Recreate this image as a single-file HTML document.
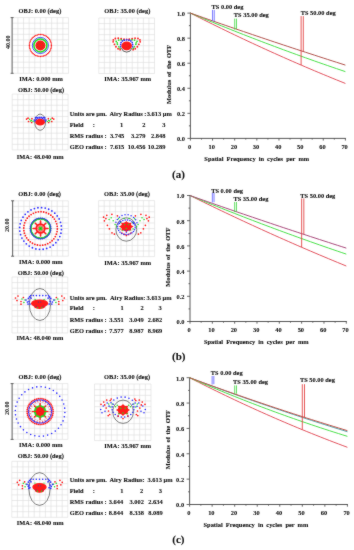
<!DOCTYPE html><html><head><meta charset="utf-8"><style>html,body{margin:0;padding:0;background:#fff;}body{width:354px;height:550px;overflow:hidden;}#w{width:354px;height:550px;will-change:transform;}</style></head><body><div id="w"><svg width="354" height="550" viewBox="0 0 354 550" font-family="Liberation Serif, serif" font-weight="bold" fill="#111" style="display:block"><defs><filter id="bl" color-interpolation-filters="sRGB" x="0" y="0" width="354" height="550" filterUnits="userSpaceOnUse"><feConvolveMatrix order="3" kernelMatrix="0.0250 0.0500 0.0250 0.0500 0.7000 0.0500 0.0250 0.0500 0.0250" preserveAlpha="false" edgeMode="none"/></filter></defs><rect width="354" height="550" fill="#fff"/><g filter="url(#bl)"><rect width="354" height="550" fill="#fff"/>
<path d="M12.3 17.6V73.3M12.3 17.6H68.5M17.92 17.6V73.3M12.3 23.17H68.5M23.54 17.6V73.3M12.3 28.74H68.5M29.16 17.6V73.3M12.3 34.31H68.5M34.78 17.6V73.3M12.3 39.88H68.5M40.4 17.6V73.3M12.3 45.45H68.5M46.02 17.6V73.3M12.3 51.02H68.5M51.64 17.6V73.3M12.3 56.59H68.5M57.26 17.6V73.3M12.3 62.16H68.5M62.88 17.6V73.3M12.3 67.73H68.5M68.5 17.6V73.3M12.3 73.3H68.5" stroke="#dcdcdc" stroke-width="0.6" fill="none"/>
<path d="M98.8 18V73.5M98.8 18H154.5M104.37 18V73.5M98.8 23.55H154.5M109.94 18V73.5M98.8 29.1H154.5M115.51 18V73.5M98.8 34.65H154.5M121.08 18V73.5M98.8 40.2H154.5M126.65 18V73.5M98.8 45.75H154.5M132.22 18V73.5M98.8 51.3H154.5M137.79 18V73.5M98.8 56.85H154.5M143.36 18V73.5M98.8 62.4H154.5M148.93 18V73.5M98.8 67.95H154.5M154.5 18V73.5M98.8 73.5H154.5" stroke="#dcdcdc" stroke-width="0.6" fill="none"/>
<path d="M12.2 94.1V149.9M12.2 94.1H68.1M17.79 94.1V149.9M12.2 99.68H68.1M23.38 94.1V149.9M12.2 105.26H68.1M28.97 94.1V149.9M12.2 110.84H68.1M34.56 94.1V149.9M12.2 116.42H68.1M40.15 94.1V149.9M12.2 122H68.1M45.74 94.1V149.9M12.2 127.58H68.1M51.33 94.1V149.9M12.2 133.16H68.1M56.92 94.1V149.9M12.2 138.74H68.1M62.51 94.1V149.9M12.2 144.32H68.1M68.1 94.1V149.9M12.2 149.9H68.1" stroke="#dcdcdc" stroke-width="0.6" fill="none"/>
<path d="M12.1 17.6V73.3M10.6 17.6H13.6M10.6 73.3H13.6" stroke="#555" stroke-width="0.9" fill="none"/>
<text x="9.5" y="42.25" font-size="6" text-anchor="middle" transform="rotate(-90 9.5 42.25)">40.00</text>
<path d="M50.65 45.45a0.75 0.75 0 1 0 1.5 0a0.75 0.75 0 1 0 -1.5 0M50.54 47.02a0.75 0.75 0 1 0 1.5 0a0.75 0.75 0 1 0 -1.5 0M50.2 48.55a0.75 0.75 0 1 0 1.5 0a0.75 0.75 0 1 0 -1.5 0M49.66 50.02a0.75 0.75 0 1 0 1.5 0a0.75 0.75 0 1 0 -1.5 0M48.9 51.4a0.75 0.75 0 1 0 1.5 0a0.75 0.75 0 1 0 -1.5 0M47.96 52.65a0.75 0.75 0 1 0 1.5 0a0.75 0.75 0 1 0 -1.5 0M46.85 53.76a0.75 0.75 0 1 0 1.5 0a0.75 0.75 0 1 0 -1.5 0M45.6 54.7a0.75 0.75 0 1 0 1.5 0a0.75 0.75 0 1 0 -1.5 0M44.22 55.46a0.75 0.75 0 1 0 1.5 0a0.75 0.75 0 1 0 -1.5 0M42.75 56a0.75 0.75 0 1 0 1.5 0a0.75 0.75 0 1 0 -1.5 0M41.22 56.34a0.75 0.75 0 1 0 1.5 0a0.75 0.75 0 1 0 -1.5 0M39.65 56.45a0.75 0.75 0 1 0 1.5 0a0.75 0.75 0 1 0 -1.5 0M38.08 56.34a0.75 0.75 0 1 0 1.5 0a0.75 0.75 0 1 0 -1.5 0M36.55 56a0.75 0.75 0 1 0 1.5 0a0.75 0.75 0 1 0 -1.5 0M35.08 55.46a0.75 0.75 0 1 0 1.5 0a0.75 0.75 0 1 0 -1.5 0M33.7 54.7a0.75 0.75 0 1 0 1.5 0a0.75 0.75 0 1 0 -1.5 0M32.45 53.76a0.75 0.75 0 1 0 1.5 0a0.75 0.75 0 1 0 -1.5 0M31.34 52.65a0.75 0.75 0 1 0 1.5 0a0.75 0.75 0 1 0 -1.5 0M30.4 51.4a0.75 0.75 0 1 0 1.5 0a0.75 0.75 0 1 0 -1.5 0M29.64 50.02a0.75 0.75 0 1 0 1.5 0a0.75 0.75 0 1 0 -1.5 0M29.1 48.55a0.75 0.75 0 1 0 1.5 0a0.75 0.75 0 1 0 -1.5 0M28.76 47.02a0.75 0.75 0 1 0 1.5 0a0.75 0.75 0 1 0 -1.5 0M28.65 45.45a0.75 0.75 0 1 0 1.5 0a0.75 0.75 0 1 0 -1.5 0M28.76 43.88a0.75 0.75 0 1 0 1.5 0a0.75 0.75 0 1 0 -1.5 0M29.1 42.35a0.75 0.75 0 1 0 1.5 0a0.75 0.75 0 1 0 -1.5 0M29.64 40.88a0.75 0.75 0 1 0 1.5 0a0.75 0.75 0 1 0 -1.5 0M30.4 39.5a0.75 0.75 0 1 0 1.5 0a0.75 0.75 0 1 0 -1.5 0M31.34 38.25a0.75 0.75 0 1 0 1.5 0a0.75 0.75 0 1 0 -1.5 0M32.45 37.14a0.75 0.75 0 1 0 1.5 0a0.75 0.75 0 1 0 -1.5 0M33.7 36.2a0.75 0.75 0 1 0 1.5 0a0.75 0.75 0 1 0 -1.5 0M35.08 35.44a0.75 0.75 0 1 0 1.5 0a0.75 0.75 0 1 0 -1.5 0M36.55 34.9a0.75 0.75 0 1 0 1.5 0a0.75 0.75 0 1 0 -1.5 0M38.08 34.56a0.75 0.75 0 1 0 1.5 0a0.75 0.75 0 1 0 -1.5 0M39.65 34.45a0.75 0.75 0 1 0 1.5 0a0.75 0.75 0 1 0 -1.5 0M41.22 34.56a0.75 0.75 0 1 0 1.5 0a0.75 0.75 0 1 0 -1.5 0M42.75 34.9a0.75 0.75 0 1 0 1.5 0a0.75 0.75 0 1 0 -1.5 0M44.22 35.44a0.75 0.75 0 1 0 1.5 0a0.75 0.75 0 1 0 -1.5 0M45.6 36.2a0.75 0.75 0 1 0 1.5 0a0.75 0.75 0 1 0 -1.5 0M46.85 37.14a0.75 0.75 0 1 0 1.5 0a0.75 0.75 0 1 0 -1.5 0M47.96 38.25a0.75 0.75 0 1 0 1.5 0a0.75 0.75 0 1 0 -1.5 0M48.9 39.5a0.75 0.75 0 1 0 1.5 0a0.75 0.75 0 1 0 -1.5 0M49.66 40.88a0.75 0.75 0 1 0 1.5 0a0.75 0.75 0 1 0 -1.5 0M50.2 42.35a0.75 0.75 0 1 0 1.5 0a0.75 0.75 0 1 0 -1.5 0M50.54 43.88a0.75 0.75 0 1 0 1.5 0a0.75 0.75 0 1 0 -1.5 0" fill="#ff1a1a"/>
<circle cx="40.4" cy="45.45" r="8" stroke="#2b2bff" stroke-width="0.9" fill="none"/>
<circle cx="40.4" cy="45.45" r="6.5" stroke="#22e022" stroke-width="1.5" fill="none"/>
<circle cx="40.4" cy="45.45" r="5" stroke="none" stroke-width="0" fill="#ff1a1a"/>
<path d="M42.75 45.45a0.45 0.45 0 1 0 0.9 0a0.45 0.45 0 1 0 -0.9 0M42.09 47.25a0.45 0.45 0 1 0 0.9 0a0.45 0.45 0 1 0 -0.9 0M40.44 48.21a0.45 0.45 0 1 0 0.9 0a0.45 0.45 0 1 0 -0.9 0M38.55 47.87a0.45 0.45 0 1 0 0.9 0a0.45 0.45 0 1 0 -0.9 0M37.32 46.41a0.45 0.45 0 1 0 0.9 0a0.45 0.45 0 1 0 -0.9 0M37.32 44.49a0.45 0.45 0 1 0 0.9 0a0.45 0.45 0 1 0 -0.9 0M38.55 43.03a0.45 0.45 0 1 0 0.9 0a0.45 0.45 0 1 0 -0.9 0M40.44 42.69a0.45 0.45 0 1 0 0.9 0a0.45 0.45 0 1 0 -0.9 0M42.09 43.65a0.45 0.45 0 1 0 0.9 0a0.45 0.45 0 1 0 -0.9 0" fill="#5a7a20"/>
<path d="M40 45.45a0.4 0.4 0 1 0 0.8 0a0.4 0.4 0 1 0 -0.8 0" fill="#5a7a20"/>
<path d="M131.2 39.65a0.85 0.85 0 1 0 1.7 0a0.85 0.85 0 1 0 -1.7 0M120.4 39.65a0.85 0.85 0 1 0 1.7 0a0.85 0.85 0 1 0 -1.7 0M133.7 40.05a0.85 0.85 0 1 0 1.7 0a0.85 0.85 0 1 0 -1.7 0M117.9 40.05a0.85 0.85 0 1 0 1.7 0a0.85 0.85 0 1 0 -1.7 0M136.2 41.25a0.85 0.85 0 1 0 1.7 0a0.85 0.85 0 1 0 -1.7 0M115.4 41.25a0.85 0.85 0 1 0 1.7 0a0.85 0.85 0 1 0 -1.7 0M135 44.25a0.85 0.85 0 1 0 1.7 0a0.85 0.85 0 1 0 -1.7 0M116.6 44.25a0.85 0.85 0 1 0 1.7 0a0.85 0.85 0 1 0 -1.7 0M133.6 46.75a0.85 0.85 0 1 0 1.7 0a0.85 0.85 0 1 0 -1.7 0M118 46.75a0.85 0.85 0 1 0 1.7 0a0.85 0.85 0 1 0 -1.7 0M132.4 48.35a0.85 0.85 0 1 0 1.7 0a0.85 0.85 0 1 0 -1.7 0M119.2 48.35a0.85 0.85 0 1 0 1.7 0a0.85 0.85 0 1 0 -1.7 0M128.8 39.75a0.85 0.85 0 1 0 1.7 0a0.85 0.85 0 1 0 -1.7 0M122.8 39.75a0.85 0.85 0 1 0 1.7 0a0.85 0.85 0 1 0 -1.7 0M135.3 42.75a0.85 0.85 0 1 0 1.7 0a0.85 0.85 0 1 0 -1.7 0M116.3 42.75a0.85 0.85 0 1 0 1.7 0a0.85 0.85 0 1 0 -1.7 0" fill="#22e022"/>
<path d="M131.25 38.55a0.9 0.9 0 1 0 1.8 0a0.9 0.9 0 1 0 -1.8 0M120.25 38.55a0.9 0.9 0 1 0 1.8 0a0.9 0.9 0 1 0 -1.8 0M134.15 38.25a0.9 0.9 0 1 0 1.8 0a0.9 0.9 0 1 0 -1.8 0M117.35 38.25a0.9 0.9 0 1 0 1.8 0a0.9 0.9 0 1 0 -1.8 0M137.05 38.5a0.9 0.9 0 1 0 1.8 0a0.9 0.9 0 1 0 -1.8 0M114.45 38.5a0.9 0.9 0 1 0 1.8 0a0.9 0.9 0 1 0 -1.8 0M139.05 39.9a0.9 0.9 0 1 0 1.8 0a0.9 0.9 0 1 0 -1.8 0M112.45 39.9a0.9 0.9 0 1 0 1.8 0a0.9 0.9 0 1 0 -1.8 0M128.35 39.15a0.9 0.9 0 1 0 1.8 0a0.9 0.9 0 1 0 -1.8 0M123.15 39.15a0.9 0.9 0 1 0 1.8 0a0.9 0.9 0 1 0 -1.8 0M125.75 39.35a0.9 0.9 0 1 0 1.8 0a0.9 0.9 0 1 0 -1.8 0M125.75 39.35a0.9 0.9 0 1 0 1.8 0a0.9 0.9 0 1 0 -1.8 0M139.25 41.85a0.9 0.9 0 1 0 1.8 0a0.9 0.9 0 1 0 -1.8 0M112.25 41.85a0.9 0.9 0 1 0 1.8 0a0.9 0.9 0 1 0 -1.8 0M137.95 44.35a0.9 0.9 0 1 0 1.8 0a0.9 0.9 0 1 0 -1.8 0M113.55 44.35a0.9 0.9 0 1 0 1.8 0a0.9 0.9 0 1 0 -1.8 0M136.45 46.75a0.9 0.9 0 1 0 1.8 0a0.9 0.9 0 1 0 -1.8 0M115.05 46.75a0.9 0.9 0 1 0 1.8 0a0.9 0.9 0 1 0 -1.8 0M134.35 48.75a0.9 0.9 0 1 0 1.8 0a0.9 0.9 0 1 0 -1.8 0M117.15 48.75a0.9 0.9 0 1 0 1.8 0a0.9 0.9 0 1 0 -1.8 0M132.25 49.65a0.9 0.9 0 1 0 1.8 0a0.9 0.9 0 1 0 -1.8 0M119.25 49.65a0.9 0.9 0 1 0 1.8 0a0.9 0.9 0 1 0 -1.8 0" fill="#ff1a1a"/>
<path d="M131.8 44.55a0.85 0.85 0 1 0 1.7 0a0.85 0.85 0 1 0 -1.7 0M119.8 44.55a0.85 0.85 0 1 0 1.7 0a0.85 0.85 0 1 0 -1.7 0M131.4 42.55a0.85 0.85 0 1 0 1.7 0a0.85 0.85 0 1 0 -1.7 0M120.2 42.55a0.85 0.85 0 1 0 1.7 0a0.85 0.85 0 1 0 -1.7 0M130 40.95a0.85 0.85 0 1 0 1.7 0a0.85 0.85 0 1 0 -1.7 0M121.6 40.95a0.85 0.85 0 1 0 1.7 0a0.85 0.85 0 1 0 -1.7 0M128 40.15a0.85 0.85 0 1 0 1.7 0a0.85 0.85 0 1 0 -1.7 0M123.6 40.15a0.85 0.85 0 1 0 1.7 0a0.85 0.85 0 1 0 -1.7 0M125.8 39.85a0.85 0.85 0 1 0 1.7 0a0.85 0.85 0 1 0 -1.7 0M125.8 39.85a0.85 0.85 0 1 0 1.7 0a0.85 0.85 0 1 0 -1.7 0M131.8 46.75a0.85 0.85 0 1 0 1.7 0a0.85 0.85 0 1 0 -1.7 0M119.8 46.75a0.85 0.85 0 1 0 1.7 0a0.85 0.85 0 1 0 -1.7 0" fill="#2b2bff"/>
<ellipse cx="126.65" cy="45.85" rx="5.3" ry="4.4" fill="#ff1a1a"/>
<path d="M124.75 44.75a0.4 0.4 0 1 0 0.8 0a0.4 0.4 0 1 0 -0.8 0M128.05 46.25a0.4 0.4 0 1 0 0.8 0a0.4 0.4 0 1 0 -0.8 0M126.25 47.55a0.4 0.4 0 1 0 0.8 0a0.4 0.4 0 1 0 -0.8 0" fill="#7a6a20"/>
<path d="M121.45 48.15A5.4 5.4 0 0 0 131.85 48.15" stroke="#333" stroke-width="0.75" fill="none"/>
<ellipse cx="40.15" cy="122.2" rx="5.4" ry="8.1" stroke="#4a4a4a" stroke-width="0.7" fill="none"/>
<path d="M49.9 119.3a0.75 0.75 0 1 0 1.5 0a0.75 0.75 0 1 0 -1.5 0M28.9 119.3a0.75 0.75 0 1 0 1.5 0a0.75 0.75 0 1 0 -1.5 0M48 120.5a0.75 0.75 0 1 0 1.5 0a0.75 0.75 0 1 0 -1.5 0M30.8 120.5a0.75 0.75 0 1 0 1.5 0a0.75 0.75 0 1 0 -1.5 0M46.5 121.5a0.75 0.75 0 1 0 1.5 0a0.75 0.75 0 1 0 -1.5 0M32.3 121.5a0.75 0.75 0 1 0 1.5 0a0.75 0.75 0 1 0 -1.5 0M48.9 121a0.75 0.75 0 1 0 1.5 0a0.75 0.75 0 1 0 -1.5 0M29.9 121a0.75 0.75 0 1 0 1.5 0a0.75 0.75 0 1 0 -1.5 0" fill="#22e022"/>
<path d="M52.9 119.1a0.85 0.85 0 1 0 1.7 0a0.85 0.85 0 1 0 -1.7 0M25.7 119.1a0.85 0.85 0 1 0 1.7 0a0.85 0.85 0 1 0 -1.7 0M51.4 118.2a0.85 0.85 0 1 0 1.7 0a0.85 0.85 0 1 0 -1.7 0M27.2 118.2a0.85 0.85 0 1 0 1.7 0a0.85 0.85 0 1 0 -1.7 0M50.9 121.5a0.85 0.85 0 1 0 1.7 0a0.85 0.85 0 1 0 -1.7 0M27.7 121.5a0.85 0.85 0 1 0 1.7 0a0.85 0.85 0 1 0 -1.7 0M47.5 118.7a0.85 0.85 0 1 0 1.7 0a0.85 0.85 0 1 0 -1.7 0M31.1 118.7a0.85 0.85 0 1 0 1.7 0a0.85 0.85 0 1 0 -1.7 0M47.8 122.5a0.85 0.85 0 1 0 1.7 0a0.85 0.85 0 1 0 -1.7 0M30.8 122.5a0.85 0.85 0 1 0 1.7 0a0.85 0.85 0 1 0 -1.7 0" fill="#ff1a1a"/>
<path d="M45.2 120a0.85 0.85 0 1 0 1.7 0a0.85 0.85 0 1 0 -1.7 0M33.4 120a0.85 0.85 0 1 0 1.7 0a0.85 0.85 0 1 0 -1.7 0M43.9 117.7a0.85 0.85 0 1 0 1.7 0a0.85 0.85 0 1 0 -1.7 0M34.7 117.7a0.85 0.85 0 1 0 1.7 0a0.85 0.85 0 1 0 -1.7 0M42.3 117.5a0.85 0.85 0 1 0 1.7 0a0.85 0.85 0 1 0 -1.7 0M36.3 117.5a0.85 0.85 0 1 0 1.7 0a0.85 0.85 0 1 0 -1.7 0M40.3 117.4a0.85 0.85 0 1 0 1.7 0a0.85 0.85 0 1 0 -1.7 0M38.3 117.4a0.85 0.85 0 1 0 1.7 0a0.85 0.85 0 1 0 -1.7 0" fill="#2b2bff"/>
<path d="M34.31 121.54a0.7 0.7 0 1 0 1.4 0a0.7 0.7 0 1 0 -1.4 0M34.82 120.29a0.7 0.7 0 1 0 1.4 0a0.7 0.7 0 1 0 -1.4 0M35.77 119.23a0.7 0.7 0 1 0 1.4 0a0.7 0.7 0 1 0 -1.4 0M37.09 118.46a0.7 0.7 0 1 0 1.4 0a0.7 0.7 0 1 0 -1.4 0M38.64 118.05a0.7 0.7 0 1 0 1.4 0a0.7 0.7 0 1 0 -1.4 0M40.26 118.05a0.7 0.7 0 1 0 1.4 0a0.7 0.7 0 1 0 -1.4 0M41.81 118.46a0.7 0.7 0 1 0 1.4 0a0.7 0.7 0 1 0 -1.4 0M43.13 119.23a0.7 0.7 0 1 0 1.4 0a0.7 0.7 0 1 0 -1.4 0M44.08 120.29a0.7 0.7 0 1 0 1.4 0a0.7 0.7 0 1 0 -1.4 0M44.59 121.54a0.7 0.7 0 1 0 1.4 0a0.7 0.7 0 1 0 -1.4 0" fill="#2b2bff"/>
<ellipse cx="40.15" cy="122.2" rx="4.8" ry="3.4" fill="#ff1a1a"/>
<text x="39.9" y="12.6" font-size="6.4" text-anchor="middle" stroke="#111" stroke-width="0.1" >OBJ: 0.00 (deg)</text>
<text x="127.3" y="12.5" font-size="6.4" text-anchor="middle" stroke="#111" stroke-width="0.1" >OBJ: 35.00 (deg)</text>
<text x="41.05" y="91.9" font-size="6.4" text-anchor="middle" stroke="#111" stroke-width="0.1" >OBJ: 50.00 (deg)</text>
<text x="41.05" y="80.9" font-size="6.4" text-anchor="middle" stroke="#111" stroke-width="0.1" >IMA: 0.000 mm</text>
<text x="127.7" y="81.4" font-size="6.4" text-anchor="middle" stroke="#111" stroke-width="0.1" >IMA: 35.967 mm</text>
<text x="40.2" y="158.5" font-size="6.4" text-anchor="middle" stroke="#111" stroke-width="0.1" >IMA: 48.040 mm</text>
<text x="69.7" y="116.3" font-size="6.4" text-anchor="start" stroke="#111" stroke-width="0.1" >Units are &#181;m.</text>
<text x="109.5" y="116.3" font-size="6.4" text-anchor="start" stroke="#111" stroke-width="0.1" >Airy Radius :</text>
<text x="146.8" y="116.3" font-size="6.4" text-anchor="start" stroke="#111" stroke-width="0.1" >3.613 &#181;m</text>
<text x="69.7" y="127" font-size="6.4" text-anchor="start" stroke="#111" stroke-width="0.1" >Field</text>
<text x="92.7" y="127" font-size="6.4" text-anchor="start" stroke="#111" stroke-width="0.1" >:</text>
<text x="69.7" y="138.2" font-size="6.4" text-anchor="start" stroke="#111" stroke-width="0.1" >RMS radius :</text>
<text x="69.7" y="149.2" font-size="6.4" text-anchor="start" stroke="#111" stroke-width="0.1" >GEO radius :</text>
<text x="121.5" y="127" font-size="6.4" text-anchor="middle" stroke="#111" stroke-width="0.1" >1</text>
<text x="124.3" y="138.2" font-size="6.4" text-anchor="end" stroke="#111" stroke-width="0.1" >3.745</text>
<text x="124.3" y="149.2" font-size="6.4" text-anchor="end" stroke="#111" stroke-width="0.1" >7.615</text>
<text x="143.9" y="127" font-size="6.4" text-anchor="middle" stroke="#111" stroke-width="0.1" >2</text>
<text x="145.4" y="138.2" font-size="6.4" text-anchor="end" stroke="#111" stroke-width="0.1" >3.279</text>
<text x="145.4" y="149.2" font-size="6.4" text-anchor="end" stroke="#111" stroke-width="0.1" >10.456</text>
<text x="163.9" y="127" font-size="6.4" text-anchor="middle" stroke="#111" stroke-width="0.1" >3</text>
<text x="165.4" y="138.2" font-size="6.4" text-anchor="end" stroke="#111" stroke-width="0.1" >2.848</text>
<text x="165.4" y="149.2" font-size="6.4" text-anchor="end" stroke="#111" stroke-width="0.1" >10.289</text>
<path d="M12.8 200.8V256.2M12.8 200.8H68.3M18.35 200.8V256.2M12.8 206.34H68.3M23.9 200.8V256.2M12.8 211.88H68.3M29.45 200.8V256.2M12.8 217.42H68.3M35 200.8V256.2M12.8 222.96H68.3M40.55 200.8V256.2M12.8 228.5H68.3M46.1 200.8V256.2M12.8 234.04H68.3M51.65 200.8V256.2M12.8 239.58H68.3M57.2 200.8V256.2M12.8 245.12H68.3M62.75 200.8V256.2M12.8 250.66H68.3M68.3 200.8V256.2M12.8 256.2H68.3" stroke="#dcdcdc" stroke-width="0.6" fill="none"/>
<path d="M98.6 200.6V256.6M98.6 200.6H154.6M104.2 200.6V256.6M98.6 206.2H154.6M109.8 200.6V256.6M98.6 211.8H154.6M115.4 200.6V256.6M98.6 217.4H154.6M121 200.6V256.6M98.6 223H154.6M126.6 200.6V256.6M98.6 228.6H154.6M132.2 200.6V256.6M98.6 234.2H154.6M137.8 200.6V256.6M98.6 239.8H154.6M143.4 200.6V256.6M98.6 245.4H154.6M149 200.6V256.6M98.6 251H154.6M154.6 200.6V256.6M98.6 256.6H154.6" stroke="#dcdcdc" stroke-width="0.6" fill="none"/>
<path d="M12 277V333M12 277H67.8M17.58 277V333M12 282.6H67.8M23.16 277V333M12 288.2H67.8M28.74 277V333M12 293.8H67.8M34.32 277V333M12 299.4H67.8M39.9 277V333M12 305H67.8M45.48 277V333M12 310.6H67.8M51.06 277V333M12 316.2H67.8M56.64 277V333M12 321.8H67.8M62.22 277V333M12 327.4H67.8M67.8 277V333M12 333H67.8" stroke="#dcdcdc" stroke-width="0.6" fill="none"/>
<path d="M12.6 200.8V256.2M11.1 200.8H14.1M11.1 256.2H14.1" stroke="#555" stroke-width="0.9" fill="none"/>
<text x="9" y="225.3" font-size="6" text-anchor="middle" transform="rotate(-90 9 225.3)">20.00</text>
<path d="M60.52 229.54a0.9 0.9 0 1 0 1.8 0a0.9 0.9 0 1 0 -1.8 0M60.03 233.15a0.9 0.9 0 1 0 1.8 0a0.9 0.9 0 1 0 -1.8 0M58.91 236.62a0.9 0.9 0 1 0 1.8 0a0.9 0.9 0 1 0 -1.8 0M57.21 239.84a0.9 0.9 0 1 0 1.8 0a0.9 0.9 0 1 0 -1.8 0M54.97 242.72a0.9 0.9 0 1 0 1.8 0a0.9 0.9 0 1 0 -1.8 0M52.27 245.16a0.9 0.9 0 1 0 1.8 0a0.9 0.9 0 1 0 -1.8 0M49.18 247.1a0.9 0.9 0 1 0 1.8 0a0.9 0.9 0 1 0 -1.8 0M45.81 248.47a0.9 0.9 0 1 0 1.8 0a0.9 0.9 0 1 0 -1.8 0M42.25 249.24a0.9 0.9 0 1 0 1.8 0a0.9 0.9 0 1 0 -1.8 0M38.61 249.37a0.9 0.9 0 1 0 1.8 0a0.9 0.9 0 1 0 -1.8 0M35 248.88a0.9 0.9 0 1 0 1.8 0a0.9 0.9 0 1 0 -1.8 0M31.53 247.76a0.9 0.9 0 1 0 1.8 0a0.9 0.9 0 1 0 -1.8 0M28.31 246.06a0.9 0.9 0 1 0 1.8 0a0.9 0.9 0 1 0 -1.8 0M25.43 243.82a0.9 0.9 0 1 0 1.8 0a0.9 0.9 0 1 0 -1.8 0M22.99 241.12a0.9 0.9 0 1 0 1.8 0a0.9 0.9 0 1 0 -1.8 0M21.05 238.03a0.9 0.9 0 1 0 1.8 0a0.9 0.9 0 1 0 -1.8 0M19.68 234.66a0.9 0.9 0 1 0 1.8 0a0.9 0.9 0 1 0 -1.8 0M18.91 231.1a0.9 0.9 0 1 0 1.8 0a0.9 0.9 0 1 0 -1.8 0M18.78 227.46a0.9 0.9 0 1 0 1.8 0a0.9 0.9 0 1 0 -1.8 0M19.27 223.85a0.9 0.9 0 1 0 1.8 0a0.9 0.9 0 1 0 -1.8 0M20.39 220.38a0.9 0.9 0 1 0 1.8 0a0.9 0.9 0 1 0 -1.8 0M22.09 217.16a0.9 0.9 0 1 0 1.8 0a0.9 0.9 0 1 0 -1.8 0M24.33 214.28a0.9 0.9 0 1 0 1.8 0a0.9 0.9 0 1 0 -1.8 0M27.03 211.84a0.9 0.9 0 1 0 1.8 0a0.9 0.9 0 1 0 -1.8 0M30.12 209.9a0.9 0.9 0 1 0 1.8 0a0.9 0.9 0 1 0 -1.8 0M33.49 208.53a0.9 0.9 0 1 0 1.8 0a0.9 0.9 0 1 0 -1.8 0M37.05 207.76a0.9 0.9 0 1 0 1.8 0a0.9 0.9 0 1 0 -1.8 0M40.69 207.63a0.9 0.9 0 1 0 1.8 0a0.9 0.9 0 1 0 -1.8 0M44.3 208.12a0.9 0.9 0 1 0 1.8 0a0.9 0.9 0 1 0 -1.8 0M47.77 209.24a0.9 0.9 0 1 0 1.8 0a0.9 0.9 0 1 0 -1.8 0M50.99 210.94a0.9 0.9 0 1 0 1.8 0a0.9 0.9 0 1 0 -1.8 0M53.87 213.18a0.9 0.9 0 1 0 1.8 0a0.9 0.9 0 1 0 -1.8 0M56.31 215.88a0.9 0.9 0 1 0 1.8 0a0.9 0.9 0 1 0 -1.8 0M58.25 218.97a0.9 0.9 0 1 0 1.8 0a0.9 0.9 0 1 0 -1.8 0M59.62 222.34a0.9 0.9 0 1 0 1.8 0a0.9 0.9 0 1 0 -1.8 0M60.39 225.9a0.9 0.9 0 1 0 1.8 0a0.9 0.9 0 1 0 -1.8 0" fill="#2b2bff"/>
<path d="M56.44 229a0.9 0.9 0 1 0 1.8 0a0.9 0.9 0 1 0 -1.8 0M56.16 231.62a0.9 0.9 0 1 0 1.8 0a0.9 0.9 0 1 0 -1.8 0M55.46 234.17a0.9 0.9 0 1 0 1.8 0a0.9 0.9 0 1 0 -1.8 0M54.38 236.57a0.9 0.9 0 1 0 1.8 0a0.9 0.9 0 1 0 -1.8 0M52.94 238.78a0.9 0.9 0 1 0 1.8 0a0.9 0.9 0 1 0 -1.8 0M51.17 240.73a0.9 0.9 0 1 0 1.8 0a0.9 0.9 0 1 0 -1.8 0M49.11 242.38a0.9 0.9 0 1 0 1.8 0a0.9 0.9 0 1 0 -1.8 0M46.82 243.69a0.9 0.9 0 1 0 1.8 0a0.9 0.9 0 1 0 -1.8 0M44.36 244.63a0.9 0.9 0 1 0 1.8 0a0.9 0.9 0 1 0 -1.8 0M41.78 245.16a0.9 0.9 0 1 0 1.8 0a0.9 0.9 0 1 0 -1.8 0M39.15 245.29a0.9 0.9 0 1 0 1.8 0a0.9 0.9 0 1 0 -1.8 0M36.53 245.01a0.9 0.9 0 1 0 1.8 0a0.9 0.9 0 1 0 -1.8 0M33.98 244.31a0.9 0.9 0 1 0 1.8 0a0.9 0.9 0 1 0 -1.8 0M31.58 243.23a0.9 0.9 0 1 0 1.8 0a0.9 0.9 0 1 0 -1.8 0M29.37 241.79a0.9 0.9 0 1 0 1.8 0a0.9 0.9 0 1 0 -1.8 0M27.42 240.02a0.9 0.9 0 1 0 1.8 0a0.9 0.9 0 1 0 -1.8 0M25.77 237.96a0.9 0.9 0 1 0 1.8 0a0.9 0.9 0 1 0 -1.8 0M24.46 235.67a0.9 0.9 0 1 0 1.8 0a0.9 0.9 0 1 0 -1.8 0M23.52 233.21a0.9 0.9 0 1 0 1.8 0a0.9 0.9 0 1 0 -1.8 0M22.99 230.63a0.9 0.9 0 1 0 1.8 0a0.9 0.9 0 1 0 -1.8 0M22.86 228a0.9 0.9 0 1 0 1.8 0a0.9 0.9 0 1 0 -1.8 0M23.14 225.38a0.9 0.9 0 1 0 1.8 0a0.9 0.9 0 1 0 -1.8 0M23.84 222.83a0.9 0.9 0 1 0 1.8 0a0.9 0.9 0 1 0 -1.8 0M24.92 220.43a0.9 0.9 0 1 0 1.8 0a0.9 0.9 0 1 0 -1.8 0M26.36 218.22a0.9 0.9 0 1 0 1.8 0a0.9 0.9 0 1 0 -1.8 0M28.13 216.27a0.9 0.9 0 1 0 1.8 0a0.9 0.9 0 1 0 -1.8 0M30.19 214.62a0.9 0.9 0 1 0 1.8 0a0.9 0.9 0 1 0 -1.8 0M32.48 213.31a0.9 0.9 0 1 0 1.8 0a0.9 0.9 0 1 0 -1.8 0M34.94 212.37a0.9 0.9 0 1 0 1.8 0a0.9 0.9 0 1 0 -1.8 0M37.52 211.84a0.9 0.9 0 1 0 1.8 0a0.9 0.9 0 1 0 -1.8 0M40.15 211.71a0.9 0.9 0 1 0 1.8 0a0.9 0.9 0 1 0 -1.8 0M42.77 211.99a0.9 0.9 0 1 0 1.8 0a0.9 0.9 0 1 0 -1.8 0M45.32 212.69a0.9 0.9 0 1 0 1.8 0a0.9 0.9 0 1 0 -1.8 0M47.72 213.77a0.9 0.9 0 1 0 1.8 0a0.9 0.9 0 1 0 -1.8 0M49.93 215.21a0.9 0.9 0 1 0 1.8 0a0.9 0.9 0 1 0 -1.8 0M51.88 216.98a0.9 0.9 0 1 0 1.8 0a0.9 0.9 0 1 0 -1.8 0M53.53 219.04a0.9 0.9 0 1 0 1.8 0a0.9 0.9 0 1 0 -1.8 0M54.84 221.33a0.9 0.9 0 1 0 1.8 0a0.9 0.9 0 1 0 -1.8 0M55.78 223.79a0.9 0.9 0 1 0 1.8 0a0.9 0.9 0 1 0 -1.8 0M56.31 226.37a0.9 0.9 0 1 0 1.8 0a0.9 0.9 0 1 0 -1.8 0" fill="#ff1a1a"/>
<circle cx="40.55" cy="228.5" r="9.9" stroke="#2a6a7a" stroke-width="1.5" fill="none"/>
<path d="M50.1 228.5a0.75 0.75 0 1 0 1.5 0a0.75 0.75 0 1 0 -1.5 0M49.94 230.29a0.75 0.75 0 1 0 1.5 0a0.75 0.75 0 1 0 -1.5 0M49.48 232.02a0.75 0.75 0 1 0 1.5 0a0.75 0.75 0 1 0 -1.5 0M48.72 233.65a0.75 0.75 0 1 0 1.5 0a0.75 0.75 0 1 0 -1.5 0M47.69 235.12a0.75 0.75 0 1 0 1.5 0a0.75 0.75 0 1 0 -1.5 0M46.42 236.39a0.75 0.75 0 1 0 1.5 0a0.75 0.75 0 1 0 -1.5 0M44.95 237.42a0.75 0.75 0 1 0 1.5 0a0.75 0.75 0 1 0 -1.5 0M43.32 238.18a0.75 0.75 0 1 0 1.5 0a0.75 0.75 0 1 0 -1.5 0M41.59 238.64a0.75 0.75 0 1 0 1.5 0a0.75 0.75 0 1 0 -1.5 0M39.8 238.8a0.75 0.75 0 1 0 1.5 0a0.75 0.75 0 1 0 -1.5 0M38.01 238.64a0.75 0.75 0 1 0 1.5 0a0.75 0.75 0 1 0 -1.5 0M36.28 238.18a0.75 0.75 0 1 0 1.5 0a0.75 0.75 0 1 0 -1.5 0M34.65 237.42a0.75 0.75 0 1 0 1.5 0a0.75 0.75 0 1 0 -1.5 0M33.18 236.39a0.75 0.75 0 1 0 1.5 0a0.75 0.75 0 1 0 -1.5 0M31.91 235.12a0.75 0.75 0 1 0 1.5 0a0.75 0.75 0 1 0 -1.5 0M30.88 233.65a0.75 0.75 0 1 0 1.5 0a0.75 0.75 0 1 0 -1.5 0M30.12 232.02a0.75 0.75 0 1 0 1.5 0a0.75 0.75 0 1 0 -1.5 0M29.66 230.29a0.75 0.75 0 1 0 1.5 0a0.75 0.75 0 1 0 -1.5 0M29.5 228.5a0.75 0.75 0 1 0 1.5 0a0.75 0.75 0 1 0 -1.5 0M29.66 226.71a0.75 0.75 0 1 0 1.5 0a0.75 0.75 0 1 0 -1.5 0M30.12 224.98a0.75 0.75 0 1 0 1.5 0a0.75 0.75 0 1 0 -1.5 0M30.88 223.35a0.75 0.75 0 1 0 1.5 0a0.75 0.75 0 1 0 -1.5 0M31.91 221.88a0.75 0.75 0 1 0 1.5 0a0.75 0.75 0 1 0 -1.5 0M33.18 220.61a0.75 0.75 0 1 0 1.5 0a0.75 0.75 0 1 0 -1.5 0M34.65 219.58a0.75 0.75 0 1 0 1.5 0a0.75 0.75 0 1 0 -1.5 0M36.28 218.82a0.75 0.75 0 1 0 1.5 0a0.75 0.75 0 1 0 -1.5 0M38.01 218.36a0.75 0.75 0 1 0 1.5 0a0.75 0.75 0 1 0 -1.5 0M39.8 218.2a0.75 0.75 0 1 0 1.5 0a0.75 0.75 0 1 0 -1.5 0M41.59 218.36a0.75 0.75 0 1 0 1.5 0a0.75 0.75 0 1 0 -1.5 0M43.32 218.82a0.75 0.75 0 1 0 1.5 0a0.75 0.75 0 1 0 -1.5 0M44.95 219.58a0.75 0.75 0 1 0 1.5 0a0.75 0.75 0 1 0 -1.5 0M46.42 220.61a0.75 0.75 0 1 0 1.5 0a0.75 0.75 0 1 0 -1.5 0M47.69 221.88a0.75 0.75 0 1 0 1.5 0a0.75 0.75 0 1 0 -1.5 0M48.72 223.35a0.75 0.75 0 1 0 1.5 0a0.75 0.75 0 1 0 -1.5 0M49.48 224.98a0.75 0.75 0 1 0 1.5 0a0.75 0.75 0 1 0 -1.5 0M49.94 226.71a0.75 0.75 0 1 0 1.5 0a0.75 0.75 0 1 0 -1.5 0" fill="#2b2bff"/>
<path d="M49.11 229.31a0.7 0.7 0 1 0 1.4 0a0.7 0.7 0 1 0 -1.4 0M48.83 230.9a0.7 0.7 0 1 0 1.4 0a0.7 0.7 0 1 0 -1.4 0M48.28 232.43a0.7 0.7 0 1 0 1.4 0a0.7 0.7 0 1 0 -1.4 0M47.47 233.83a0.7 0.7 0 1 0 1.4 0a0.7 0.7 0 1 0 -1.4 0M46.43 235.07a0.7 0.7 0 1 0 1.4 0a0.7 0.7 0 1 0 -1.4 0M45.19 236.12a0.7 0.7 0 1 0 1.4 0a0.7 0.7 0 1 0 -1.4 0M43.78 236.93a0.7 0.7 0 1 0 1.4 0a0.7 0.7 0 1 0 -1.4 0M42.26 237.48a0.7 0.7 0 1 0 1.4 0a0.7 0.7 0 1 0 -1.4 0M40.66 237.76a0.7 0.7 0 1 0 1.4 0a0.7 0.7 0 1 0 -1.4 0M39.04 237.76a0.7 0.7 0 1 0 1.4 0a0.7 0.7 0 1 0 -1.4 0M37.45 237.48a0.7 0.7 0 1 0 1.4 0a0.7 0.7 0 1 0 -1.4 0M35.92 236.93a0.7 0.7 0 1 0 1.4 0a0.7 0.7 0 1 0 -1.4 0M34.52 236.12a0.7 0.7 0 1 0 1.4 0a0.7 0.7 0 1 0 -1.4 0M33.28 235.08a0.7 0.7 0 1 0 1.4 0a0.7 0.7 0 1 0 -1.4 0M32.23 233.84a0.7 0.7 0 1 0 1.4 0a0.7 0.7 0 1 0 -1.4 0M31.42 232.43a0.7 0.7 0 1 0 1.4 0a0.7 0.7 0 1 0 -1.4 0M30.87 230.91a0.7 0.7 0 1 0 1.4 0a0.7 0.7 0 1 0 -1.4 0M30.59 229.31a0.7 0.7 0 1 0 1.4 0a0.7 0.7 0 1 0 -1.4 0M30.59 227.69a0.7 0.7 0 1 0 1.4 0a0.7 0.7 0 1 0 -1.4 0M30.87 226.1a0.7 0.7 0 1 0 1.4 0a0.7 0.7 0 1 0 -1.4 0M31.42 224.57a0.7 0.7 0 1 0 1.4 0a0.7 0.7 0 1 0 -1.4 0M32.23 223.17a0.7 0.7 0 1 0 1.4 0a0.7 0.7 0 1 0 -1.4 0M33.27 221.93a0.7 0.7 0 1 0 1.4 0a0.7 0.7 0 1 0 -1.4 0M34.51 220.88a0.7 0.7 0 1 0 1.4 0a0.7 0.7 0 1 0 -1.4 0M35.92 220.07a0.7 0.7 0 1 0 1.4 0a0.7 0.7 0 1 0 -1.4 0M37.44 219.52a0.7 0.7 0 1 0 1.4 0a0.7 0.7 0 1 0 -1.4 0M39.04 219.24a0.7 0.7 0 1 0 1.4 0a0.7 0.7 0 1 0 -1.4 0M40.66 219.24a0.7 0.7 0 1 0 1.4 0a0.7 0.7 0 1 0 -1.4 0M42.25 219.52a0.7 0.7 0 1 0 1.4 0a0.7 0.7 0 1 0 -1.4 0M43.78 220.07a0.7 0.7 0 1 0 1.4 0a0.7 0.7 0 1 0 -1.4 0M45.18 220.88a0.7 0.7 0 1 0 1.4 0a0.7 0.7 0 1 0 -1.4 0M46.42 221.92a0.7 0.7 0 1 0 1.4 0a0.7 0.7 0 1 0 -1.4 0M47.47 223.16a0.7 0.7 0 1 0 1.4 0a0.7 0.7 0 1 0 -1.4 0M48.28 224.57a0.7 0.7 0 1 0 1.4 0a0.7 0.7 0 1 0 -1.4 0M48.83 226.09a0.7 0.7 0 1 0 1.4 0a0.7 0.7 0 1 0 -1.4 0M49.11 227.69a0.7 0.7 0 1 0 1.4 0a0.7 0.7 0 1 0 -1.4 0" fill="#22e022"/>
<path d="M40.55 223.9L40.55 221.1M43.8 225.25L45.78 223.27M45.15 228.5L47.95 228.5M43.8 231.75L45.78 233.73M40.55 233.1L40.55 235.9M37.3 231.75L35.32 233.73M35.95 228.5L33.15 228.5M37.3 225.25L35.32 223.27" stroke="#ff1a1a" stroke-width="1.6" fill="none" stroke-linecap="round"/>
<circle cx="40.55" cy="228.5" r="4.2" stroke="#ff1a1a" stroke-width="1.9" fill="none"/>
<circle cx="40.55" cy="228.5" r="2.6" stroke="#ff1a1a" stroke-width="0.9" fill="none"/>
<circle cx="40.55" cy="228.5" r="1.9" stroke="none" stroke-width="0" fill="#22e022"/>
<path d="M40 228.5a0.55 0.55 0 1 0 1.1 0a0.55 0.55 0 1 0 -1.1 0" fill="#4a6a20"/>
<ellipse cx="126.3" cy="229.5" rx="10.4" ry="11.7" stroke="#4a4a4a" stroke-width="0.7" fill="none"/>
<path d="M141.25 217.8a0.75 0.75 0 1 0 1.5 0a0.75 0.75 0 1 0 -1.5 0M110.45 217.8a0.75 0.75 0 1 0 1.5 0a0.75 0.75 0 1 0 -1.5 0M139.25 220.8a0.75 0.75 0 1 0 1.5 0a0.75 0.75 0 1 0 -1.5 0M112.45 220.8a0.75 0.75 0 1 0 1.5 0a0.75 0.75 0 1 0 -1.5 0M137.35 224.6a0.75 0.75 0 1 0 1.5 0a0.75 0.75 0 1 0 -1.5 0M114.35 224.6a0.75 0.75 0 1 0 1.5 0a0.75 0.75 0 1 0 -1.5 0M143.35 219.6a0.75 0.75 0 1 0 1.5 0a0.75 0.75 0 1 0 -1.5 0M108.35 219.6a0.75 0.75 0 1 0 1.5 0a0.75 0.75 0 1 0 -1.5 0M133.85 218.8a0.75 0.75 0 1 0 1.5 0a0.75 0.75 0 1 0 -1.5 0M117.85 218.8a0.75 0.75 0 1 0 1.5 0a0.75 0.75 0 1 0 -1.5 0M128.35 218.4a0.75 0.75 0 1 0 1.5 0a0.75 0.75 0 1 0 -1.5 0M123.35 218.4a0.75 0.75 0 1 0 1.5 0a0.75 0.75 0 1 0 -1.5 0M131.85 222.6a0.75 0.75 0 1 0 1.5 0a0.75 0.75 0 1 0 -1.5 0M119.85 222.6a0.75 0.75 0 1 0 1.5 0a0.75 0.75 0 1 0 -1.5 0M132.35 229.1a0.75 0.75 0 1 0 1.5 0a0.75 0.75 0 1 0 -1.5 0M119.35 229.1a0.75 0.75 0 1 0 1.5 0a0.75 0.75 0 1 0 -1.5 0M135.85 226.8a0.75 0.75 0 1 0 1.5 0a0.75 0.75 0 1 0 -1.5 0M115.85 226.8a0.75 0.75 0 1 0 1.5 0a0.75 0.75 0 1 0 -1.5 0" fill="#22e022"/>
<path d="M148.35 217.2a0.85 0.85 0 1 0 1.7 0a0.85 0.85 0 1 0 -1.7 0M102.75 217.2a0.85 0.85 0 1 0 1.7 0a0.85 0.85 0 1 0 -1.7 0M145.15 215.3a0.85 0.85 0 1 0 1.7 0a0.85 0.85 0 1 0 -1.7 0M105.95 215.3a0.85 0.85 0 1 0 1.7 0a0.85 0.85 0 1 0 -1.7 0M140.05 214.3a0.85 0.85 0 1 0 1.7 0a0.85 0.85 0 1 0 -1.7 0M111.05 214.3a0.85 0.85 0 1 0 1.7 0a0.85 0.85 0 1 0 -1.7 0M134.55 215.8a0.85 0.85 0 1 0 1.7 0a0.85 0.85 0 1 0 -1.7 0M116.55 215.8a0.85 0.85 0 1 0 1.7 0a0.85 0.85 0 1 0 -1.7 0M147.55 220.8a0.85 0.85 0 1 0 1.7 0a0.85 0.85 0 1 0 -1.7 0M103.55 220.8a0.85 0.85 0 1 0 1.7 0a0.85 0.85 0 1 0 -1.7 0M144.55 225.3a0.85 0.85 0 1 0 1.7 0a0.85 0.85 0 1 0 -1.7 0M106.55 225.3a0.85 0.85 0 1 0 1.7 0a0.85 0.85 0 1 0 -1.7 0M142.55 228.8a0.85 0.85 0 1 0 1.7 0a0.85 0.85 0 1 0 -1.7 0M108.55 228.8a0.85 0.85 0 1 0 1.7 0a0.85 0.85 0 1 0 -1.7 0M139.95 232.8a0.85 0.85 0 1 0 1.7 0a0.85 0.85 0 1 0 -1.7 0M111.15 232.8a0.85 0.85 0 1 0 1.7 0a0.85 0.85 0 1 0 -1.7 0M137.55 234.1a0.85 0.85 0 1 0 1.7 0a0.85 0.85 0 1 0 -1.7 0M113.55 234.1a0.85 0.85 0 1 0 1.7 0a0.85 0.85 0 1 0 -1.7 0M146.05 218.6a0.85 0.85 0 1 0 1.7 0a0.85 0.85 0 1 0 -1.7 0M105.05 218.6a0.85 0.85 0 1 0 1.7 0a0.85 0.85 0 1 0 -1.7 0M130.05 233.1a0.85 0.85 0 1 0 1.7 0a0.85 0.85 0 1 0 -1.7 0M121.05 233.1a0.85 0.85 0 1 0 1.7 0a0.85 0.85 0 1 0 -1.7 0M125.55 235.4a0.85 0.85 0 1 0 1.7 0a0.85 0.85 0 1 0 -1.7 0M125.55 235.4a0.85 0.85 0 1 0 1.7 0a0.85 0.85 0 1 0 -1.7 0M127.75 234.4a0.85 0.85 0 1 0 1.7 0a0.85 0.85 0 1 0 -1.7 0M123.35 234.4a0.85 0.85 0 1 0 1.7 0a0.85 0.85 0 1 0 -1.7 0" fill="#ff1a1a"/>
<path d="M115.19 222.34a0.75 0.75 0 1 0 1.5 0a0.75 0.75 0 1 0 -1.5 0M116.55 219.5a0.75 0.75 0 1 0 1.5 0a0.75 0.75 0 1 0 -1.5 0M118.64 217.17a0.75 0.75 0 1 0 1.5 0a0.75 0.75 0 1 0 -1.5 0M121.28 215.52a0.75 0.75 0 1 0 1.5 0a0.75 0.75 0 1 0 -1.5 0M124.27 214.69a0.75 0.75 0 1 0 1.5 0a0.75 0.75 0 1 0 -1.5 0M127.37 214.74a0.75 0.75 0 1 0 1.5 0a0.75 0.75 0 1 0 -1.5 0M130.33 215.67a0.75 0.75 0 1 0 1.5 0a0.75 0.75 0 1 0 -1.5 0M132.92 217.4a0.75 0.75 0 1 0 1.5 0a0.75 0.75 0 1 0 -1.5 0M134.94 219.8a0.75 0.75 0 1 0 1.5 0a0.75 0.75 0 1 0 -1.5 0M136.21 222.68a0.75 0.75 0 1 0 1.5 0a0.75 0.75 0 1 0 -1.5 0M132.77 222.22a0.75 0.75 0 1 0 1.5 0a0.75 0.75 0 1 0 -1.5 0M133.83 223.93a0.75 0.75 0 1 0 1.5 0a0.75 0.75 0 1 0 -1.5 0M134.38 225.82a0.75 0.75 0 1 0 1.5 0a0.75 0.75 0 1 0 -1.5 0M134.38 227.78a0.75 0.75 0 1 0 1.5 0a0.75 0.75 0 1 0 -1.5 0M133.83 229.67a0.75 0.75 0 1 0 1.5 0a0.75 0.75 0 1 0 -1.5 0M132.77 231.38a0.75 0.75 0 1 0 1.5 0a0.75 0.75 0 1 0 -1.5 0M131.26 232.81a0.75 0.75 0 1 0 1.5 0a0.75 0.75 0 1 0 -1.5 0M129.4 233.86a0.75 0.75 0 1 0 1.5 0a0.75 0.75 0 1 0 -1.5 0M127.3 234.46a0.75 0.75 0 1 0 1.5 0a0.75 0.75 0 1 0 -1.5 0M125.1 234.58a0.75 0.75 0 1 0 1.5 0a0.75 0.75 0 1 0 -1.5 0M122.93 234.22a0.75 0.75 0 1 0 1.5 0a0.75 0.75 0 1 0 -1.5 0M120.93 233.39a0.75 0.75 0 1 0 1.5 0a0.75 0.75 0 1 0 -1.5 0M119.24 232.14a0.75 0.75 0 1 0 1.5 0a0.75 0.75 0 1 0 -1.5 0M117.94 230.56a0.75 0.75 0 1 0 1.5 0a0.75 0.75 0 1 0 -1.5 0M117.13 228.74a0.75 0.75 0 1 0 1.5 0a0.75 0.75 0 1 0 -1.5 0M116.85 226.8a0.75 0.75 0 1 0 1.5 0a0.75 0.75 0 1 0 -1.5 0M117.13 224.86a0.75 0.75 0 1 0 1.5 0a0.75 0.75 0 1 0 -1.5 0M117.94 223.04a0.75 0.75 0 1 0 1.5 0a0.75 0.75 0 1 0 -1.5 0M119.24 221.46a0.75 0.75 0 1 0 1.5 0a0.75 0.75 0 1 0 -1.5 0M118.7 223.45a0.75 0.75 0 1 0 1.5 0a0.75 0.75 0 1 0 -1.5 0M120.13 221.8a0.75 0.75 0 1 0 1.5 0a0.75 0.75 0 1 0 -1.5 0M122.11 220.61a0.75 0.75 0 1 0 1.5 0a0.75 0.75 0 1 0 -1.5 0M124.43 219.98a0.75 0.75 0 1 0 1.5 0a0.75 0.75 0 1 0 -1.5 0M126.87 219.98a0.75 0.75 0 1 0 1.5 0a0.75 0.75 0 1 0 -1.5 0M129.19 220.61a0.75 0.75 0 1 0 1.5 0a0.75 0.75 0 1 0 -1.5 0M131.17 221.8a0.75 0.75 0 1 0 1.5 0a0.75 0.75 0 1 0 -1.5 0M132.6 223.45a0.75 0.75 0 1 0 1.5 0a0.75 0.75 0 1 0 -1.5 0" fill="#2b2bff"/>
<polygon points="133.7,226.6 130.55,228.13 131.53,230.56 128.06,230.3 126.3,232.2 124.54,230.3 121.07,230.56 122.05,228.13 118.9,226.6 122.05,225.07 121.07,222.64 124.54,222.9 126.3,221 128.06,222.9 131.53,222.64 130.55,225.07" fill="#ff1a1a"/>
<ellipse cx="126.3" cy="226.6" rx="5.2" ry="4.4" fill="#ff1a1a"/>
<path d="M123.9 224.6a0.7 0.7 0 1 0 1.4 0a0.7 0.7 0 1 0 -1.4 0M127.9 224.6a0.7 0.7 0 1 0 1.4 0a0.7 0.7 0 1 0 -1.4 0M125.6 228.4a0.7 0.7 0 1 0 1.4 0a0.7 0.7 0 1 0 -1.4 0M122.1 230.6a0.7 0.7 0 1 0 1.4 0a0.7 0.7 0 1 0 -1.4 0M129.2 230.6a0.7 0.7 0 1 0 1.4 0a0.7 0.7 0 1 0 -1.4 0" fill="#22e022"/>
<path d="M124.5 230.6a0.6 0.6 0 1 0 1.2 0a0.6 0.6 0 1 0 -1.2 0M127.2 230.6a0.6 0.6 0 1 0 1.2 0a0.6 0.6 0 1 0 -1.2 0M125.7 232.4a0.6 0.6 0 1 0 1.2 0a0.6 0.6 0 1 0 -1.2 0" fill="#2b2bff"/>
<ellipse cx="39.9" cy="304.5" rx="10.6" ry="16" stroke="#4a4a4a" stroke-width="0.7" fill="none"/>
<path d="M57 299a0.8 0.8 0 1 0 1.6 0a0.8 0.8 0 1 0 -1.6 0M21.2 299a0.8 0.8 0 1 0 1.6 0a0.8 0.8 0 1 0 -1.6 0M54 300a0.8 0.8 0 1 0 1.6 0a0.8 0.8 0 1 0 -1.6 0M24.2 300a0.8 0.8 0 1 0 1.6 0a0.8 0.8 0 1 0 -1.6 0M55.1 302.5a0.8 0.8 0 1 0 1.6 0a0.8 0.8 0 1 0 -1.6 0M23.1 302.5a0.8 0.8 0 1 0 1.6 0a0.8 0.8 0 1 0 -1.6 0" fill="#22e022"/>
<path d="M63.45 298a0.85 0.85 0 1 0 1.7 0a0.85 0.85 0 1 0 -1.7 0M14.65 298a0.85 0.85 0 1 0 1.7 0a0.85 0.85 0 1 0 -1.7 0M60.95 296a0.85 0.85 0 1 0 1.7 0a0.85 0.85 0 1 0 -1.7 0M17.15 296a0.85 0.85 0 1 0 1.7 0a0.85 0.85 0 1 0 -1.7 0M61.95 300.5a0.85 0.85 0 1 0 1.7 0a0.85 0.85 0 1 0 -1.7 0M16.15 300.5a0.85 0.85 0 1 0 1.7 0a0.85 0.85 0 1 0 -1.7 0M57.95 301.5a0.85 0.85 0 1 0 1.7 0a0.85 0.85 0 1 0 -1.7 0M20.15 301.5a0.85 0.85 0 1 0 1.7 0a0.85 0.85 0 1 0 -1.7 0M57.95 304.2a0.85 0.85 0 1 0 1.7 0a0.85 0.85 0 1 0 -1.7 0M20.15 304.2a0.85 0.85 0 1 0 1.7 0a0.85 0.85 0 1 0 -1.7 0M55.55 297.5a0.85 0.85 0 1 0 1.7 0a0.85 0.85 0 1 0 -1.7 0M22.55 297.5a0.85 0.85 0 1 0 1.7 0a0.85 0.85 0 1 0 -1.7 0" fill="#ff1a1a"/>
<path d="M52.95 300a0.85 0.85 0 1 0 1.7 0a0.85 0.85 0 1 0 -1.7 0M25.15 300a0.85 0.85 0 1 0 1.7 0a0.85 0.85 0 1 0 -1.7 0M50.95 304a0.85 0.85 0 1 0 1.7 0a0.85 0.85 0 1 0 -1.7 0M27.15 304a0.85 0.85 0 1 0 1.7 0a0.85 0.85 0 1 0 -1.7 0M51.55 302a0.85 0.85 0 1 0 1.7 0a0.85 0.85 0 1 0 -1.7 0M26.55 302a0.85 0.85 0 1 0 1.7 0a0.85 0.85 0 1 0 -1.7 0" fill="#2b2bff"/>
<path d="M38.8 295.6a0.8 0.8 0 1 0 1.6 0a0.8 0.8 0 1 0 -1.6 0M38.8 295.6a0.8 0.8 0 1 0 1.6 0a0.8 0.8 0 1 0 -1.6 0M42 295.6a0.8 0.8 0 1 0 1.6 0a0.8 0.8 0 1 0 -1.6 0M35.6 295.6a0.8 0.8 0 1 0 1.6 0a0.8 0.8 0 1 0 -1.6 0M45.1 295.6a0.8 0.8 0 1 0 1.6 0a0.8 0.8 0 1 0 -1.6 0M32.5 295.6a0.8 0.8 0 1 0 1.6 0a0.8 0.8 0 1 0 -1.6 0M47.8 295.6a0.8 0.8 0 1 0 1.6 0a0.8 0.8 0 1 0 -1.6 0M29.8 295.6a0.8 0.8 0 1 0 1.6 0a0.8 0.8 0 1 0 -1.6 0" fill="#2b2bff"/>
<path d="M49.95 298.4a0.85 0.85 0 1 0 1.7 0a0.85 0.85 0 1 0 -1.7 0M27.55 298.4a0.85 0.85 0 1 0 1.7 0a0.85 0.85 0 1 0 -1.7 0M49.35 301.4a0.85 0.85 0 1 0 1.7 0a0.85 0.85 0 1 0 -1.7 0M28.15 301.4a0.85 0.85 0 1 0 1.7 0a0.85 0.85 0 1 0 -1.7 0M48.35 304a0.85 0.85 0 1 0 1.7 0a0.85 0.85 0 1 0 -1.7 0M29.15 304a0.85 0.85 0 1 0 1.7 0a0.85 0.85 0 1 0 -1.7 0M48.75 296.8a0.85 0.85 0 1 0 1.7 0a0.85 0.85 0 1 0 -1.7 0M28.75 296.8a0.85 0.85 0 1 0 1.7 0a0.85 0.85 0 1 0 -1.7 0M47.25 298.1a0.85 0.85 0 1 0 1.7 0a0.85 0.85 0 1 0 -1.7 0M30.25 298.1a0.85 0.85 0 1 0 1.7 0a0.85 0.85 0 1 0 -1.7 0" fill="#2b2bff"/>
<ellipse cx="39.6" cy="303.4" rx="8.6" ry="4.0" fill="#ff1a1a"/>
<ellipse cx="39.6" cy="306.4" rx="5.59" ry="2.7" fill="#ff1a1a"/>
<path d="M38.8 615.1a0.8 0.8 0 1 0 1.6 0a0.8 0.8 0 1 0 -1.6 0" fill="#ff1a1a"/>
<path d="M43.4 299.4a0.7 0.7 0 1 0 1.4 0a0.7 0.7 0 1 0 -1.4 0M34.4 299.4a0.7 0.7 0 1 0 1.4 0a0.7 0.7 0 1 0 -1.4 0M40.9 307.6a0.7 0.7 0 1 0 1.4 0a0.7 0.7 0 1 0 -1.4 0M36.9 307.6a0.7 0.7 0 1 0 1.4 0a0.7 0.7 0 1 0 -1.4 0" fill="#22e022"/>
<path d="M40.2 302.1a0.6 0.6 0 1 0 1.2 0a0.6 0.6 0 1 0 -1.2 0M37.8 302.1a0.6 0.6 0 1 0 1.2 0a0.6 0.6 0 1 0 -1.2 0M42.5 306.1a0.6 0.6 0 1 0 1.2 0a0.6 0.6 0 1 0 -1.2 0M35.5 306.1a0.6 0.6 0 1 0 1.2 0a0.6 0.6 0 1 0 -1.2 0" fill="#4040a0"/>
<text x="39.6" y="195.8" font-size="6.4" text-anchor="middle" stroke="#111" stroke-width="0.1" >OBJ: 0.00 (deg)</text>
<text x="126.9" y="195.7" font-size="6.4" text-anchor="middle" stroke="#111" stroke-width="0.1" >OBJ: 35.00 (deg)</text>
<text x="40.8" y="274.9" font-size="6.4" text-anchor="middle" stroke="#111" stroke-width="0.1" >OBJ: 50.00 (deg)</text>
<text x="40.8" y="264.3" font-size="6.4" text-anchor="middle" stroke="#111" stroke-width="0.1" >IMA: 0.000 mm</text>
<text x="127.7" y="264.7" font-size="6.4" text-anchor="middle" stroke="#111" stroke-width="0.1" >IMA: 35.967 mm</text>
<text x="39.95" y="340.4" font-size="6.4" text-anchor="middle" stroke="#111" stroke-width="0.1" >IMA: 48.040 mm</text>
<text x="69.7" y="299.6" font-size="6.4" text-anchor="start" stroke="#111" stroke-width="0.1" >Units are &#181;m.</text>
<text x="110" y="299.6" font-size="6.4" text-anchor="start" stroke="#111" stroke-width="0.1" >Airy Radius:</text>
<text x="146.6" y="299.6" font-size="6.4" text-anchor="start" stroke="#111" stroke-width="0.1" >3.613 &#181;m</text>
<text x="69.7" y="310.4" font-size="6.4" text-anchor="start" stroke="#111" stroke-width="0.1" >Field</text>
<text x="92.7" y="310.4" font-size="6.4" text-anchor="start" stroke="#111" stroke-width="0.1" >:</text>
<text x="69.7" y="321.6" font-size="6.4" text-anchor="start" stroke="#111" stroke-width="0.1" >RMS radius :</text>
<text x="69.7" y="332.6" font-size="6.4" text-anchor="start" stroke="#111" stroke-width="0.1" >GEO radius :</text>
<text x="122" y="310.4" font-size="6.4" text-anchor="middle" stroke="#111" stroke-width="0.1" >1</text>
<text x="123.7" y="321.6" font-size="6.4" text-anchor="end" stroke="#111" stroke-width="0.1" >3.551</text>
<text x="123.7" y="332.6" font-size="6.4" text-anchor="end" stroke="#111" stroke-width="0.1" >7.577</text>
<text x="142" y="310.4" font-size="6.4" text-anchor="middle" stroke="#111" stroke-width="0.1" >2</text>
<text x="143.7" y="321.6" font-size="6.4" text-anchor="end" stroke="#111" stroke-width="0.1" >3.049</text>
<text x="143.7" y="332.6" font-size="6.4" text-anchor="end" stroke="#111" stroke-width="0.1" >8.987</text>
<text x="160" y="310.4" font-size="6.4" text-anchor="middle" stroke="#111" stroke-width="0.1" >3</text>
<text x="162.2" y="321.6" font-size="6.4" text-anchor="end" stroke="#111" stroke-width="0.1" >2.682</text>
<text x="162.2" y="332.6" font-size="6.4" text-anchor="end" stroke="#111" stroke-width="0.1" >8.969</text>
<path d="M12.3 383.6V439.4M12.3 383.6H67.9M17.86 383.6V439.4M12.3 389.18H67.9M23.42 383.6V439.4M12.3 394.76H67.9M28.98 383.6V439.4M12.3 400.34H67.9M34.54 383.6V439.4M12.3 405.92H67.9M40.1 383.6V439.4M12.3 411.5H67.9M45.66 383.6V439.4M12.3 417.08H67.9M51.22 383.6V439.4M12.3 422.66H67.9M56.78 383.6V439.4M12.3 428.24H67.9M62.34 383.6V439.4M12.3 433.82H67.9M67.9 383.6V439.4M12.3 439.4H67.9" stroke="#dcdcdc" stroke-width="0.6" fill="none"/>
<path d="M94.5 384V440.6M94.5 384H151M100.15 384V440.6M94.5 389.66H151M105.8 384V440.6M94.5 395.32H151M111.45 384V440.6M94.5 400.98H151M117.1 384V440.6M94.5 406.64H151M122.75 384V440.6M94.5 412.3H151M128.4 384V440.6M94.5 417.96H151M134.05 384V440.6M94.5 423.62H151M139.7 384V440.6M94.5 429.28H151M145.35 384V440.6M94.5 434.94H151M151 384V440.6M94.5 440.6H151" stroke="#dcdcdc" stroke-width="0.6" fill="none"/>
<path d="M11.8 461.3V517.3M11.8 461.3H67.8M17.4 461.3V517.3M11.8 466.9H67.8M23 461.3V517.3M11.8 472.5H67.8M28.6 461.3V517.3M11.8 478.1H67.8M34.2 461.3V517.3M11.8 483.7H67.8M39.8 461.3V517.3M11.8 489.3H67.8M45.4 461.3V517.3M11.8 494.9H67.8M51 461.3V517.3M11.8 500.5H67.8M56.6 461.3V517.3M11.8 506.1H67.8M62.2 461.3V517.3M11.8 511.7H67.8M67.8 461.3V517.3M11.8 517.3H67.8" stroke="#dcdcdc" stroke-width="0.6" fill="none"/>
<path d="M12.1 383.6V439.4M10.6 383.6H13.6M10.6 439.4H13.6" stroke="#555" stroke-width="0.9" fill="none"/>
<text x="9" y="408.3" font-size="6" text-anchor="middle" transform="rotate(-90 9 408.3)">20.00</text>
<path d="M64.08 412.49a0.8 0.8 0 1 0 1.6 0a0.8 0.8 0 1 0 -1.6 0M63.53 416.78a0.8 0.8 0 1 0 1.6 0a0.8 0.8 0 1 0 -1.6 0M62.25 420.91a0.8 0.8 0 1 0 1.6 0a0.8 0.8 0 1 0 -1.6 0M60.26 424.75a0.8 0.8 0 1 0 1.6 0a0.8 0.8 0 1 0 -1.6 0M57.65 428.19a0.8 0.8 0 1 0 1.6 0a0.8 0.8 0 1 0 -1.6 0M54.47 431.12a0.8 0.8 0 1 0 1.6 0a0.8 0.8 0 1 0 -1.6 0M50.83 433.46a0.8 0.8 0 1 0 1.6 0a0.8 0.8 0 1 0 -1.6 0M46.84 435.12a0.8 0.8 0 1 0 1.6 0a0.8 0.8 0 1 0 -1.6 0M42.63 436.08a0.8 0.8 0 1 0 1.6 0a0.8 0.8 0 1 0 -1.6 0M38.31 436.28a0.8 0.8 0 1 0 1.6 0a0.8 0.8 0 1 0 -1.6 0M34.02 435.73a0.8 0.8 0 1 0 1.6 0a0.8 0.8 0 1 0 -1.6 0M29.89 434.45a0.8 0.8 0 1 0 1.6 0a0.8 0.8 0 1 0 -1.6 0M26.05 432.46a0.8 0.8 0 1 0 1.6 0a0.8 0.8 0 1 0 -1.6 0M22.61 429.85a0.8 0.8 0 1 0 1.6 0a0.8 0.8 0 1 0 -1.6 0M19.68 426.67a0.8 0.8 0 1 0 1.6 0a0.8 0.8 0 1 0 -1.6 0M17.34 423.03a0.8 0.8 0 1 0 1.6 0a0.8 0.8 0 1 0 -1.6 0M15.68 419.04a0.8 0.8 0 1 0 1.6 0a0.8 0.8 0 1 0 -1.6 0M14.72 414.83a0.8 0.8 0 1 0 1.6 0a0.8 0.8 0 1 0 -1.6 0M14.52 410.51a0.8 0.8 0 1 0 1.6 0a0.8 0.8 0 1 0 -1.6 0M15.07 406.22a0.8 0.8 0 1 0 1.6 0a0.8 0.8 0 1 0 -1.6 0M16.35 402.09a0.8 0.8 0 1 0 1.6 0a0.8 0.8 0 1 0 -1.6 0M18.34 398.25a0.8 0.8 0 1 0 1.6 0a0.8 0.8 0 1 0 -1.6 0M20.95 394.81a0.8 0.8 0 1 0 1.6 0a0.8 0.8 0 1 0 -1.6 0M24.13 391.88a0.8 0.8 0 1 0 1.6 0a0.8 0.8 0 1 0 -1.6 0M27.77 389.54a0.8 0.8 0 1 0 1.6 0a0.8 0.8 0 1 0 -1.6 0M31.76 387.88a0.8 0.8 0 1 0 1.6 0a0.8 0.8 0 1 0 -1.6 0M35.97 386.92a0.8 0.8 0 1 0 1.6 0a0.8 0.8 0 1 0 -1.6 0M40.29 386.72a0.8 0.8 0 1 0 1.6 0a0.8 0.8 0 1 0 -1.6 0M44.58 387.27a0.8 0.8 0 1 0 1.6 0a0.8 0.8 0 1 0 -1.6 0M48.71 388.55a0.8 0.8 0 1 0 1.6 0a0.8 0.8 0 1 0 -1.6 0M52.55 390.54a0.8 0.8 0 1 0 1.6 0a0.8 0.8 0 1 0 -1.6 0M55.99 393.15a0.8 0.8 0 1 0 1.6 0a0.8 0.8 0 1 0 -1.6 0M58.92 396.33a0.8 0.8 0 1 0 1.6 0a0.8 0.8 0 1 0 -1.6 0M61.26 399.97a0.8 0.8 0 1 0 1.6 0a0.8 0.8 0 1 0 -1.6 0M62.92 403.96a0.8 0.8 0 1 0 1.6 0a0.8 0.8 0 1 0 -1.6 0M63.88 408.17a0.8 0.8 0 1 0 1.6 0a0.8 0.8 0 1 0 -1.6 0" fill="#2b2bff"/>
<circle cx="40.1" cy="411.5" r="9" stroke="#cccccc" stroke-width="0.5" fill="none"/>
<path d="M52.25 411.5a0.85 0.85 0 1 0 1.7 0a0.85 0.85 0 1 0 -1.7 0M52.12 413.35a0.85 0.85 0 1 0 1.7 0a0.85 0.85 0 1 0 -1.7 0M51.72 415.16a0.85 0.85 0 1 0 1.7 0a0.85 0.85 0 1 0 -1.7 0M51.08 416.9a0.85 0.85 0 1 0 1.7 0a0.85 0.85 0 1 0 -1.7 0M50.19 418.53a0.85 0.85 0 1 0 1.7 0a0.85 0.85 0 1 0 -1.7 0M49.07 420.01a0.85 0.85 0 1 0 1.7 0a0.85 0.85 0 1 0 -1.7 0M47.76 421.32a0.85 0.85 0 1 0 1.7 0a0.85 0.85 0 1 0 -1.7 0M46.28 422.44a0.85 0.85 0 1 0 1.7 0a0.85 0.85 0 1 0 -1.7 0M44.65 423.33a0.85 0.85 0 1 0 1.7 0a0.85 0.85 0 1 0 -1.7 0M42.91 423.97a0.85 0.85 0 1 0 1.7 0a0.85 0.85 0 1 0 -1.7 0M41.1 424.37a0.85 0.85 0 1 0 1.7 0a0.85 0.85 0 1 0 -1.7 0M39.25 424.5a0.85 0.85 0 1 0 1.7 0a0.85 0.85 0 1 0 -1.7 0M37.4 424.37a0.85 0.85 0 1 0 1.7 0a0.85 0.85 0 1 0 -1.7 0M35.59 423.97a0.85 0.85 0 1 0 1.7 0a0.85 0.85 0 1 0 -1.7 0M33.85 423.33a0.85 0.85 0 1 0 1.7 0a0.85 0.85 0 1 0 -1.7 0M32.22 422.44a0.85 0.85 0 1 0 1.7 0a0.85 0.85 0 1 0 -1.7 0M30.74 421.32a0.85 0.85 0 1 0 1.7 0a0.85 0.85 0 1 0 -1.7 0M29.43 420.01a0.85 0.85 0 1 0 1.7 0a0.85 0.85 0 1 0 -1.7 0M28.31 418.53a0.85 0.85 0 1 0 1.7 0a0.85 0.85 0 1 0 -1.7 0M27.42 416.9a0.85 0.85 0 1 0 1.7 0a0.85 0.85 0 1 0 -1.7 0M26.78 415.16a0.85 0.85 0 1 0 1.7 0a0.85 0.85 0 1 0 -1.7 0M26.38 413.35a0.85 0.85 0 1 0 1.7 0a0.85 0.85 0 1 0 -1.7 0M26.25 411.5a0.85 0.85 0 1 0 1.7 0a0.85 0.85 0 1 0 -1.7 0M26.38 409.65a0.85 0.85 0 1 0 1.7 0a0.85 0.85 0 1 0 -1.7 0M26.78 407.84a0.85 0.85 0 1 0 1.7 0a0.85 0.85 0 1 0 -1.7 0M27.42 406.1a0.85 0.85 0 1 0 1.7 0a0.85 0.85 0 1 0 -1.7 0M28.31 404.47a0.85 0.85 0 1 0 1.7 0a0.85 0.85 0 1 0 -1.7 0M29.43 402.99a0.85 0.85 0 1 0 1.7 0a0.85 0.85 0 1 0 -1.7 0M30.74 401.68a0.85 0.85 0 1 0 1.7 0a0.85 0.85 0 1 0 -1.7 0M32.22 400.56a0.85 0.85 0 1 0 1.7 0a0.85 0.85 0 1 0 -1.7 0M33.85 399.67a0.85 0.85 0 1 0 1.7 0a0.85 0.85 0 1 0 -1.7 0M35.59 399.03a0.85 0.85 0 1 0 1.7 0a0.85 0.85 0 1 0 -1.7 0M37.4 398.63a0.85 0.85 0 1 0 1.7 0a0.85 0.85 0 1 0 -1.7 0M39.25 398.5a0.85 0.85 0 1 0 1.7 0a0.85 0.85 0 1 0 -1.7 0M41.1 398.63a0.85 0.85 0 1 0 1.7 0a0.85 0.85 0 1 0 -1.7 0M42.91 399.03a0.85 0.85 0 1 0 1.7 0a0.85 0.85 0 1 0 -1.7 0M44.65 399.67a0.85 0.85 0 1 0 1.7 0a0.85 0.85 0 1 0 -1.7 0M46.28 400.56a0.85 0.85 0 1 0 1.7 0a0.85 0.85 0 1 0 -1.7 0M47.76 401.68a0.85 0.85 0 1 0 1.7 0a0.85 0.85 0 1 0 -1.7 0M49.07 402.99a0.85 0.85 0 1 0 1.7 0a0.85 0.85 0 1 0 -1.7 0M50.19 404.47a0.85 0.85 0 1 0 1.7 0a0.85 0.85 0 1 0 -1.7 0M51.08 406.1a0.85 0.85 0 1 0 1.7 0a0.85 0.85 0 1 0 -1.7 0M51.72 407.84a0.85 0.85 0 1 0 1.7 0a0.85 0.85 0 1 0 -1.7 0M52.12 409.65a0.85 0.85 0 1 0 1.7 0a0.85 0.85 0 1 0 -1.7 0" fill="#ff1a1a"/>
<path d="M50.77 412.3a0.8 0.8 0 1 0 1.6 0a0.8 0.8 0 1 0 -1.6 0M50.54 413.93a0.8 0.8 0 1 0 1.6 0a0.8 0.8 0 1 0 -1.6 0M50.08 415.5a0.8 0.8 0 1 0 1.6 0a0.8 0.8 0 1 0 -1.6 0M49.4 417a0.8 0.8 0 1 0 1.6 0a0.8 0.8 0 1 0 -1.6 0M48.52 418.38a0.8 0.8 0 1 0 1.6 0a0.8 0.8 0 1 0 -1.6 0M47.44 419.62a0.8 0.8 0 1 0 1.6 0a0.8 0.8 0 1 0 -1.6 0M46.2 420.7a0.8 0.8 0 1 0 1.6 0a0.8 0.8 0 1 0 -1.6 0M44.83 421.59a0.8 0.8 0 1 0 1.6 0a0.8 0.8 0 1 0 -1.6 0M43.33 422.27a0.8 0.8 0 1 0 1.6 0a0.8 0.8 0 1 0 -1.6 0M41.76 422.73a0.8 0.8 0 1 0 1.6 0a0.8 0.8 0 1 0 -1.6 0M40.14 422.97a0.8 0.8 0 1 0 1.6 0a0.8 0.8 0 1 0 -1.6 0M38.5 422.97a0.8 0.8 0 1 0 1.6 0a0.8 0.8 0 1 0 -1.6 0M36.87 422.74a0.8 0.8 0 1 0 1.6 0a0.8 0.8 0 1 0 -1.6 0M35.3 422.28a0.8 0.8 0 1 0 1.6 0a0.8 0.8 0 1 0 -1.6 0M33.8 421.6a0.8 0.8 0 1 0 1.6 0a0.8 0.8 0 1 0 -1.6 0M32.42 420.72a0.8 0.8 0 1 0 1.6 0a0.8 0.8 0 1 0 -1.6 0M31.18 419.64a0.8 0.8 0 1 0 1.6 0a0.8 0.8 0 1 0 -1.6 0M30.1 418.4a0.8 0.8 0 1 0 1.6 0a0.8 0.8 0 1 0 -1.6 0M29.21 417.03a0.8 0.8 0 1 0 1.6 0a0.8 0.8 0 1 0 -1.6 0M28.53 415.53a0.8 0.8 0 1 0 1.6 0a0.8 0.8 0 1 0 -1.6 0M28.07 413.96a0.8 0.8 0 1 0 1.6 0a0.8 0.8 0 1 0 -1.6 0M27.83 412.34a0.8 0.8 0 1 0 1.6 0a0.8 0.8 0 1 0 -1.6 0M27.83 410.7a0.8 0.8 0 1 0 1.6 0a0.8 0.8 0 1 0 -1.6 0M28.06 409.07a0.8 0.8 0 1 0 1.6 0a0.8 0.8 0 1 0 -1.6 0M28.52 407.5a0.8 0.8 0 1 0 1.6 0a0.8 0.8 0 1 0 -1.6 0M29.2 406a0.8 0.8 0 1 0 1.6 0a0.8 0.8 0 1 0 -1.6 0M30.08 404.62a0.8 0.8 0 1 0 1.6 0a0.8 0.8 0 1 0 -1.6 0M31.16 403.38a0.8 0.8 0 1 0 1.6 0a0.8 0.8 0 1 0 -1.6 0M32.4 402.3a0.8 0.8 0 1 0 1.6 0a0.8 0.8 0 1 0 -1.6 0M33.77 401.41a0.8 0.8 0 1 0 1.6 0a0.8 0.8 0 1 0 -1.6 0M35.27 400.73a0.8 0.8 0 1 0 1.6 0a0.8 0.8 0 1 0 -1.6 0M36.84 400.27a0.8 0.8 0 1 0 1.6 0a0.8 0.8 0 1 0 -1.6 0M38.46 400.03a0.8 0.8 0 1 0 1.6 0a0.8 0.8 0 1 0 -1.6 0M40.1 400.03a0.8 0.8 0 1 0 1.6 0a0.8 0.8 0 1 0 -1.6 0M41.73 400.26a0.8 0.8 0 1 0 1.6 0a0.8 0.8 0 1 0 -1.6 0M43.3 400.72a0.8 0.8 0 1 0 1.6 0a0.8 0.8 0 1 0 -1.6 0M44.8 401.4a0.8 0.8 0 1 0 1.6 0a0.8 0.8 0 1 0 -1.6 0M46.18 402.28a0.8 0.8 0 1 0 1.6 0a0.8 0.8 0 1 0 -1.6 0M47.42 403.36a0.8 0.8 0 1 0 1.6 0a0.8 0.8 0 1 0 -1.6 0M48.5 404.6a0.8 0.8 0 1 0 1.6 0a0.8 0.8 0 1 0 -1.6 0M49.39 405.97a0.8 0.8 0 1 0 1.6 0a0.8 0.8 0 1 0 -1.6 0M50.07 407.47a0.8 0.8 0 1 0 1.6 0a0.8 0.8 0 1 0 -1.6 0M50.53 409.04a0.8 0.8 0 1 0 1.6 0a0.8 0.8 0 1 0 -1.6 0M50.77 410.66a0.8 0.8 0 1 0 1.6 0a0.8 0.8 0 1 0 -1.6 0" fill="#2b2bff"/>
<path d="M49.9 411.79L51.1 411.83M49.49 414.32L50.64 414.66M48.44 416.65L49.46 417.28M46.82 418.63L47.64 419.51M44.74 420.13L45.31 421.19M42.35 421.04L42.63 422.21M39.81 421.3L39.77 422.5M37.28 420.89L36.94 422.04M34.95 419.84L34.32 420.86M32.97 418.22L32.09 419.04M31.47 416.14L30.41 416.71M30.56 413.75L29.39 414.03M30.3 411.21L29.1 411.17M30.71 408.68L29.56 408.34M31.76 406.35L30.74 405.72M33.38 404.37L32.56 403.49M35.46 402.87L34.89 401.81M37.85 401.96L37.57 400.79M40.39 401.7L40.43 400.5M42.92 402.11L43.26 400.96M45.25 403.16L45.88 402.14M47.23 404.78L48.11 403.96M48.73 406.86L49.79 406.29M49.64 409.25L50.81 408.97" stroke="#ff1a1a" stroke-width="0.7" fill="none" stroke-linecap="round"/>
<polygon points="40.1,404.5 42.4,405.96 45.05,406.55 45.64,409.2 47.1,411.5 45.64,413.8 45.05,416.45 42.4,417.04 40.1,418.5 37.8,417.04 35.15,416.45 34.56,413.8 33.1,411.5 34.56,409.2 35.15,406.55 37.8,405.96" fill="#22e022"/>
<circle cx="40.1" cy="411.5" r="4.4" stroke="none" stroke-width="0" fill="#ff1a1a"/>
<path d="M40.1 407L40.1 404.1M43.28 408.32L45.33 406.27M44.6 411.5L47.5 411.5M43.28 414.68L45.33 416.73M40.1 416L40.1 418.9M36.92 414.68L34.87 416.73M35.6 411.5L32.7 411.5M36.92 408.32L34.87 406.27" stroke="#ff1a1a" stroke-width="0.9" fill="none" stroke-linecap="round"/>
<path d="M39.25 403.9a0.85 0.85 0 1 0 1.7 0a0.85 0.85 0 1 0 -1.7 0M44.62 406.13a0.85 0.85 0 1 0 1.7 0a0.85 0.85 0 1 0 -1.7 0M46.85 411.5a0.85 0.85 0 1 0 1.7 0a0.85 0.85 0 1 0 -1.7 0M44.62 416.87a0.85 0.85 0 1 0 1.7 0a0.85 0.85 0 1 0 -1.7 0M39.25 419.1a0.85 0.85 0 1 0 1.7 0a0.85 0.85 0 1 0 -1.7 0M33.88 416.87a0.85 0.85 0 1 0 1.7 0a0.85 0.85 0 1 0 -1.7 0M31.65 411.5a0.85 0.85 0 1 0 1.7 0a0.85 0.85 0 1 0 -1.7 0M33.88 406.13a0.85 0.85 0 1 0 1.7 0a0.85 0.85 0 1 0 -1.7 0" fill="#ff1a1a"/>
<path d="M39.5 411.5a0.6 0.6 0 1 0 1.2 0a0.6 0.6 0 1 0 -1.2 0" fill="#6a6a20"/>
<ellipse cx="123.05" cy="411.75" rx="10.35" ry="11.65" stroke="#4a4a4a" stroke-width="0.7" fill="none"/>
<path d="M136.55 404a0.75 0.75 0 1 0 1.5 0a0.75 0.75 0 1 0 -1.5 0M107.95 404a0.75 0.75 0 1 0 1.5 0a0.75 0.75 0 1 0 -1.5 0M135.05 407a0.75 0.75 0 1 0 1.5 0a0.75 0.75 0 1 0 -1.5 0M109.45 407a0.75 0.75 0 1 0 1.5 0a0.75 0.75 0 1 0 -1.5 0M133.05 404a0.75 0.75 0 1 0 1.5 0a0.75 0.75 0 1 0 -1.5 0M111.45 404a0.75 0.75 0 1 0 1.5 0a0.75 0.75 0 1 0 -1.5 0M129.75 406.8a0.75 0.75 0 1 0 1.5 0a0.75 0.75 0 1 0 -1.5 0M114.75 406.8a0.75 0.75 0 1 0 1.5 0a0.75 0.75 0 1 0 -1.5 0" fill="#22e022"/>
<path d="M144.5 409.5a0.8 0.8 0 1 0 1.6 0a0.8 0.8 0 1 0 -1.6 0M99.9 409.5a0.8 0.8 0 1 0 1.6 0a0.8 0.8 0 1 0 -1.6 0M142 406a0.8 0.8 0 1 0 1.6 0a0.8 0.8 0 1 0 -1.6 0M102.4 406a0.8 0.8 0 1 0 1.6 0a0.8 0.8 0 1 0 -1.6 0M138 403a0.8 0.8 0 1 0 1.6 0a0.8 0.8 0 1 0 -1.6 0M106.4 403a0.8 0.8 0 1 0 1.6 0a0.8 0.8 0 1 0 -1.6 0M140.2 411.3a0.8 0.8 0 1 0 1.6 0a0.8 0.8 0 1 0 -1.6 0M104.2 411.3a0.8 0.8 0 1 0 1.6 0a0.8 0.8 0 1 0 -1.6 0M143.2 412.8a0.8 0.8 0 1 0 1.6 0a0.8 0.8 0 1 0 -1.6 0M101.2 412.8a0.8 0.8 0 1 0 1.6 0a0.8 0.8 0 1 0 -1.6 0" fill="#2b2bff"/>
<path d="M141.45 402a0.85 0.85 0 1 0 1.7 0a0.85 0.85 0 1 0 -1.7 0M102.85 402a0.85 0.85 0 1 0 1.7 0a0.85 0.85 0 1 0 -1.7 0M138.45 400a0.85 0.85 0 1 0 1.7 0a0.85 0.85 0 1 0 -1.7 0M105.85 400a0.85 0.85 0 1 0 1.7 0a0.85 0.85 0 1 0 -1.7 0M133.95 399a0.85 0.85 0 1 0 1.7 0a0.85 0.85 0 1 0 -1.7 0M110.35 399a0.85 0.85 0 1 0 1.7 0a0.85 0.85 0 1 0 -1.7 0M140.45 404.9a0.85 0.85 0 1 0 1.7 0a0.85 0.85 0 1 0 -1.7 0M103.85 404.9a0.85 0.85 0 1 0 1.7 0a0.85 0.85 0 1 0 -1.7 0M138.95 408a0.85 0.85 0 1 0 1.7 0a0.85 0.85 0 1 0 -1.7 0M105.35 408a0.85 0.85 0 1 0 1.7 0a0.85 0.85 0 1 0 -1.7 0M136.65 411a0.85 0.85 0 1 0 1.7 0a0.85 0.85 0 1 0 -1.7 0M107.65 411a0.85 0.85 0 1 0 1.7 0a0.85 0.85 0 1 0 -1.7 0M135.45 414.5a0.85 0.85 0 1 0 1.7 0a0.85 0.85 0 1 0 -1.7 0M108.85 414.5a0.85 0.85 0 1 0 1.7 0a0.85 0.85 0 1 0 -1.7 0M144.15 404.3a0.85 0.85 0 1 0 1.7 0a0.85 0.85 0 1 0 -1.7 0M100.15 404.3a0.85 0.85 0 1 0 1.7 0a0.85 0.85 0 1 0 -1.7 0M134.95 400.5a0.85 0.85 0 1 0 1.7 0a0.85 0.85 0 1 0 -1.7 0M109.35 400.5a0.85 0.85 0 1 0 1.7 0a0.85 0.85 0 1 0 -1.7 0M136.95 415.6a0.85 0.85 0 1 0 1.7 0a0.85 0.85 0 1 0 -1.7 0M107.35 415.6a0.85 0.85 0 1 0 1.7 0a0.85 0.85 0 1 0 -1.7 0" fill="#ff1a1a"/>
<path d="M108.25 406.16a0.8 0.8 0 1 0 1.6 0a0.8 0.8 0 1 0 -1.6 0M110.2 402.79a0.8 0.8 0 1 0 1.6 0a0.8 0.8 0 1 0 -1.6 0M113.01 400.04a0.8 0.8 0 1 0 1.6 0a0.8 0.8 0 1 0 -1.6 0M116.46 398.1a0.8 0.8 0 1 0 1.6 0a0.8 0.8 0 1 0 -1.6 0M120.32 397.11a0.8 0.8 0 1 0 1.6 0a0.8 0.8 0 1 0 -1.6 0M124.31 397.14a0.8 0.8 0 1 0 1.6 0a0.8 0.8 0 1 0 -1.6 0M128.16 398.19a0.8 0.8 0 1 0 1.6 0a0.8 0.8 0 1 0 -1.6 0M131.58 400.18a0.8 0.8 0 1 0 1.6 0a0.8 0.8 0 1 0 -1.6 0M134.34 402.98a0.8 0.8 0 1 0 1.6 0a0.8 0.8 0 1 0 -1.6 0M136.23 406.37a0.8 0.8 0 1 0 1.6 0a0.8 0.8 0 1 0 -1.6 0M132 404.3a0.8 0.8 0 1 0 1.6 0a0.8 0.8 0 1 0 -1.6 0M133.06 406.92a0.8 0.8 0 1 0 1.6 0a0.8 0.8 0 1 0 -1.6 0M133.06 409.68a0.8 0.8 0 1 0 1.6 0a0.8 0.8 0 1 0 -1.6 0M132 412.3a0.8 0.8 0 1 0 1.6 0a0.8 0.8 0 1 0 -1.6 0M129.98 414.52a0.8 0.8 0 1 0 1.6 0a0.8 0.8 0 1 0 -1.6 0M127.19 416.14a0.8 0.8 0 1 0 1.6 0a0.8 0.8 0 1 0 -1.6 0M123.92 416.99a0.8 0.8 0 1 0 1.6 0a0.8 0.8 0 1 0 -1.6 0M120.48 416.99a0.8 0.8 0 1 0 1.6 0a0.8 0.8 0 1 0 -1.6 0M117.21 416.14a0.8 0.8 0 1 0 1.6 0a0.8 0.8 0 1 0 -1.6 0M114.42 414.52a0.8 0.8 0 1 0 1.6 0a0.8 0.8 0 1 0 -1.6 0M112.4 412.3a0.8 0.8 0 1 0 1.6 0a0.8 0.8 0 1 0 -1.6 0M111.34 409.68a0.8 0.8 0 1 0 1.6 0a0.8 0.8 0 1 0 -1.6 0M111.34 406.92a0.8 0.8 0 1 0 1.6 0a0.8 0.8 0 1 0 -1.6 0M112.4 404.3a0.8 0.8 0 1 0 1.6 0a0.8 0.8 0 1 0 -1.6 0" fill="#2b2bff"/>
<polygon points="130.2,410 127.25,411.61 128.09,414.24 124.76,413.88 123,416 121.24,413.88 117.91,414.24 118.75,411.61 115.8,410 118.75,408.39 117.91,405.76 121.24,406.12 123,404 124.76,406.12 128.09,405.76 127.25,408.39" fill="#ff1a1a"/>
<ellipse cx="123" cy="410" rx="5.2" ry="4.6" fill="#ff1a1a"/>
<path d="M116.5 405.3a0.75 0.75 0 1 0 1.5 0a0.75 0.75 0 1 0 -1.5 0M128 405.3a0.75 0.75 0 1 0 1.5 0a0.75 0.75 0 1 0 -1.5 0M122.25 413.1a0.75 0.75 0 1 0 1.5 0a0.75 0.75 0 1 0 -1.5 0M118.2 413.8a0.75 0.75 0 1 0 1.5 0a0.75 0.75 0 1 0 -1.5 0M126.3 413.8a0.75 0.75 0 1 0 1.5 0a0.75 0.75 0 1 0 -1.5 0M120 408.3a0.75 0.75 0 1 0 1.5 0a0.75 0.75 0 1 0 -1.5 0M124.5 408.3a0.75 0.75 0 1 0 1.5 0a0.75 0.75 0 1 0 -1.5 0" fill="#22e022"/>
<path d="M122.15 418.5a0.85 0.85 0 1 0 1.7 0a0.85 0.85 0 1 0 -1.7 0M117.4 416.1a0.85 0.85 0 1 0 1.7 0a0.85 0.85 0 1 0 -1.7 0M126.9 416.1a0.85 0.85 0 1 0 1.7 0a0.85 0.85 0 1 0 -1.7 0" fill="#ff1a1a"/>
<ellipse cx="39.5" cy="489" rx="10.6" ry="16.4" stroke="#4a4a4a" stroke-width="0.7" fill="none"/>
<path d="M55.47 483.3a0.8 0.8 0 1 0 1.6 0a0.8 0.8 0 1 0 -1.6 0M22.53 483.3a0.8 0.8 0 1 0 1.6 0a0.8 0.8 0 1 0 -1.6 0M52.71 484.3a0.8 0.8 0 1 0 1.6 0a0.8 0.8 0 1 0 -1.6 0M25.29 484.3a0.8 0.8 0 1 0 1.6 0a0.8 0.8 0 1 0 -1.6 0M53.72 486.8a0.8 0.8 0 1 0 1.6 0a0.8 0.8 0 1 0 -1.6 0M24.28 486.8a0.8 0.8 0 1 0 1.6 0a0.8 0.8 0 1 0 -1.6 0" fill="#22e022"/>
<path d="M61.4 482.3a0.85 0.85 0 1 0 1.7 0a0.85 0.85 0 1 0 -1.7 0M16.5 482.3a0.85 0.85 0 1 0 1.7 0a0.85 0.85 0 1 0 -1.7 0M59.1 480.3a0.85 0.85 0 1 0 1.7 0a0.85 0.85 0 1 0 -1.7 0M18.8 480.3a0.85 0.85 0 1 0 1.7 0a0.85 0.85 0 1 0 -1.7 0M60.02 484.8a0.85 0.85 0 1 0 1.7 0a0.85 0.85 0 1 0 -1.7 0M17.88 484.8a0.85 0.85 0 1 0 1.7 0a0.85 0.85 0 1 0 -1.7 0M56.34 485.8a0.85 0.85 0 1 0 1.7 0a0.85 0.85 0 1 0 -1.7 0M21.56 485.8a0.85 0.85 0 1 0 1.7 0a0.85 0.85 0 1 0 -1.7 0M56.34 488.5a0.85 0.85 0 1 0 1.7 0a0.85 0.85 0 1 0 -1.7 0M21.56 488.5a0.85 0.85 0 1 0 1.7 0a0.85 0.85 0 1 0 -1.7 0M54.13 481.8a0.85 0.85 0 1 0 1.7 0a0.85 0.85 0 1 0 -1.7 0M23.77 481.8a0.85 0.85 0 1 0 1.7 0a0.85 0.85 0 1 0 -1.7 0" fill="#ff1a1a"/>
<path d="M51.74 484.3a0.85 0.85 0 1 0 1.7 0a0.85 0.85 0 1 0 -1.7 0M26.16 484.3a0.85 0.85 0 1 0 1.7 0a0.85 0.85 0 1 0 -1.7 0M49.9 488.3a0.85 0.85 0 1 0 1.7 0a0.85 0.85 0 1 0 -1.7 0M28 488.3a0.85 0.85 0 1 0 1.7 0a0.85 0.85 0 1 0 -1.7 0M50.45 486.3a0.85 0.85 0 1 0 1.7 0a0.85 0.85 0 1 0 -1.7 0M27.45 486.3a0.85 0.85 0 1 0 1.7 0a0.85 0.85 0 1 0 -1.7 0" fill="#2b2bff"/>
<path d="M38.7 479.3a0.8 0.8 0 1 0 1.6 0a0.8 0.8 0 1 0 -1.6 0M38.7 479.3a0.8 0.8 0 1 0 1.6 0a0.8 0.8 0 1 0 -1.6 0M41.9 479.3a0.8 0.8 0 1 0 1.6 0a0.8 0.8 0 1 0 -1.6 0M35.5 479.3a0.8 0.8 0 1 0 1.6 0a0.8 0.8 0 1 0 -1.6 0M45 479.3a0.8 0.8 0 1 0 1.6 0a0.8 0.8 0 1 0 -1.6 0M32.4 479.3a0.8 0.8 0 1 0 1.6 0a0.8 0.8 0 1 0 -1.6 0M47.7 479.3a0.8 0.8 0 1 0 1.6 0a0.8 0.8 0 1 0 -1.6 0M29.7 479.3a0.8 0.8 0 1 0 1.6 0a0.8 0.8 0 1 0 -1.6 0" fill="#2b2bff"/>
<path d="M49.85 482.1a0.85 0.85 0 1 0 1.7 0a0.85 0.85 0 1 0 -1.7 0M27.45 482.1a0.85 0.85 0 1 0 1.7 0a0.85 0.85 0 1 0 -1.7 0M49.25 485.1a0.85 0.85 0 1 0 1.7 0a0.85 0.85 0 1 0 -1.7 0M28.05 485.1a0.85 0.85 0 1 0 1.7 0a0.85 0.85 0 1 0 -1.7 0M48.25 487.7a0.85 0.85 0 1 0 1.7 0a0.85 0.85 0 1 0 -1.7 0M29.05 487.7a0.85 0.85 0 1 0 1.7 0a0.85 0.85 0 1 0 -1.7 0M48.65 480.5a0.85 0.85 0 1 0 1.7 0a0.85 0.85 0 1 0 -1.7 0M28.65 480.5a0.85 0.85 0 1 0 1.7 0a0.85 0.85 0 1 0 -1.7 0M47.15 481.8a0.85 0.85 0 1 0 1.7 0a0.85 0.85 0 1 0 -1.7 0M30.15 481.8a0.85 0.85 0 1 0 1.7 0a0.85 0.85 0 1 0 -1.7 0" fill="#2b2bff"/>
<ellipse cx="39.5" cy="487.1" rx="7.2" ry="4.0" fill="#ff1a1a"/>
<ellipse cx="39.5" cy="490.1" rx="4.68" ry="2.7" fill="#ff1a1a"/>
<path d="M38.7 983.1a0.8 0.8 0 1 0 1.6 0a0.8 0.8 0 1 0 -1.6 0" fill="#ff1a1a"/>
<path d="M43.3 483.1a0.7 0.7 0 1 0 1.4 0a0.7 0.7 0 1 0 -1.4 0M34.3 483.1a0.7 0.7 0 1 0 1.4 0a0.7 0.7 0 1 0 -1.4 0M40.8 491.3a0.7 0.7 0 1 0 1.4 0a0.7 0.7 0 1 0 -1.4 0M36.8 491.3a0.7 0.7 0 1 0 1.4 0a0.7 0.7 0 1 0 -1.4 0" fill="#22e022"/>
<path d="M40.1 485.8a0.6 0.6 0 1 0 1.2 0a0.6 0.6 0 1 0 -1.2 0M37.7 485.8a0.6 0.6 0 1 0 1.2 0a0.6 0.6 0 1 0 -1.2 0M42.4 489.8a0.6 0.6 0 1 0 1.2 0a0.6 0.6 0 1 0 -1.2 0M35.4 489.8a0.6 0.6 0 1 0 1.2 0a0.6 0.6 0 1 0 -1.2 0" fill="#4040a0"/>
<text x="39.95" y="378.8" font-size="6.4" text-anchor="middle" stroke="#111" stroke-width="0.1" >OBJ: 0.00 (deg)</text>
<text x="127.05" y="378.5" font-size="6.4" text-anchor="middle" stroke="#111" stroke-width="0.1" >OBJ: 35.00 (deg)</text>
<text x="40.8" y="458.1" font-size="6.4" text-anchor="middle" stroke="#111" stroke-width="0.1" >OBJ: 50.00 (deg)</text>
<text x="40.8" y="447.4" font-size="6.4" text-anchor="middle" stroke="#111" stroke-width="0.1" >IMA: 0.000 mm</text>
<text x="127.7" y="447.8" font-size="6.4" text-anchor="middle" stroke="#111" stroke-width="0.1" >IMA: 35.967 mm</text>
<text x="40.2" y="524.5" font-size="6.4" text-anchor="middle" stroke="#111" stroke-width="0.1" >IMA: 48.040 mm</text>
<text x="69.7" y="481.5" font-size="6.4" text-anchor="start" stroke="#111" stroke-width="0.1" >Units are &#181;m.</text>
<text x="109.4" y="481.5" font-size="6.4" text-anchor="start" stroke="#111" stroke-width="0.1" >Airy Radius:</text>
<text x="147.5" y="481.5" font-size="6.4" text-anchor="start" stroke="#111" stroke-width="0.1" >3.613 &#181;m</text>
<text x="69.7" y="492.5" font-size="6.4" text-anchor="start" stroke="#111" stroke-width="0.1" >Field</text>
<text x="92.7" y="492.5" font-size="6.4" text-anchor="start" stroke="#111" stroke-width="0.1" >:</text>
<text x="69.7" y="504.2" font-size="6.4" text-anchor="start" stroke="#111" stroke-width="0.1" >RMS radius :</text>
<text x="69.7" y="515" font-size="6.4" text-anchor="start" stroke="#111" stroke-width="0.1" >GEO radius :</text>
<text x="121.8" y="492.5" font-size="6.4" text-anchor="middle" stroke="#111" stroke-width="0.1" >1</text>
<text x="123.1" y="504.2" font-size="6.4" text-anchor="end" stroke="#111" stroke-width="0.1" >3.644</text>
<text x="123.1" y="515" font-size="6.4" text-anchor="end" stroke="#111" stroke-width="0.1" >8.844</text>
<text x="141.6" y="492.5" font-size="6.4" text-anchor="middle" stroke="#111" stroke-width="0.1" >2</text>
<text x="143.9" y="504.2" font-size="6.4" text-anchor="end" stroke="#111" stroke-width="0.1" >3.002</text>
<text x="143.9" y="515" font-size="6.4" text-anchor="end" stroke="#111" stroke-width="0.1" >8.338</text>
<text x="160.4" y="492.5" font-size="6.4" text-anchor="middle" stroke="#111" stroke-width="0.1" >3</text>
<text x="162.6" y="504.2" font-size="6.4" text-anchor="end" stroke="#111" stroke-width="0.1" >2.634</text>
<text x="162.6" y="515" font-size="6.4" text-anchor="end" stroke="#111" stroke-width="0.1" >8.089</text>
<path d="M190.4 12.6V138.4H345.9" stroke="#444" stroke-width="0.9" fill="none"/>
<path d="M187.4 138.4H190.4M188.9 125.87H190.4M187.4 113.34H190.4M188.9 100.81H190.4M187.4 88.28H190.4M188.9 75.75H190.4M187.4 63.22H190.4M188.9 50.69H190.4M187.4 38.16H190.4M188.9 25.63H190.4M187.4 13.1H190.4M190.4 138.4V140.6M201.47 138.4V139.6M212.54 138.4V140.6M223.61 138.4V139.6M234.69 138.4V140.6M245.76 138.4V139.6M256.83 138.4V140.6M267.9 138.4V139.6M278.97 138.4V140.6M290.04 138.4V139.6M301.11 138.4V140.6M312.19 138.4V139.6M323.26 138.4V140.6M334.33 138.4V139.6M345.4 138.4V140.6" stroke="#444" stroke-width="0.8" fill="none"/>
<text x="184.9" y="141.3" font-size="6.4" text-anchor="end" stroke="#111" stroke-width="0.1" >0.0</text>
<text x="184.9" y="116.24" font-size="6.4" text-anchor="end" stroke="#111" stroke-width="0.1" >0.2</text>
<text x="184.9" y="91.18" font-size="6.4" text-anchor="end" stroke="#111" stroke-width="0.1" >0.4</text>
<text x="184.9" y="66.12" font-size="6.4" text-anchor="end" stroke="#111" stroke-width="0.1" >0.6</text>
<text x="184.9" y="41.06" font-size="6.4" text-anchor="end" stroke="#111" stroke-width="0.1" >0.8</text>
<text x="184.9" y="16" font-size="6.4" text-anchor="end" stroke="#111" stroke-width="0.1" >1.0</text>
<text x="189.6" y="148.7" font-size="6.4" text-anchor="middle" stroke="#111" stroke-width="0.1" >0</text>
<text x="211.74" y="148.7" font-size="6.4" text-anchor="middle" stroke="#111" stroke-width="0.1" >10</text>
<text x="233.89" y="148.7" font-size="6.4" text-anchor="middle" stroke="#111" stroke-width="0.1" >20</text>
<text x="256.03" y="148.7" font-size="6.4" text-anchor="middle" stroke="#111" stroke-width="0.1" >30</text>
<text x="278.17" y="148.7" font-size="6.4" text-anchor="middle" stroke="#111" stroke-width="0.1" >40</text>
<text x="300.31" y="148.7" font-size="6.4" text-anchor="middle" stroke="#111" stroke-width="0.1" >50</text>
<text x="322.46" y="148.7" font-size="6.4" text-anchor="middle" stroke="#111" stroke-width="0.1" >60</text>
<text x="344.6" y="148.7" font-size="6.4" text-anchor="middle" stroke="#111" stroke-width="0.1" >70</text>
<text x="256.7" y="160.6" font-size="6.4" text-anchor="middle" stroke="#111" stroke-width="0.1" word-spacing="1.5">Spatial Frequency in cycles per mm</text>
<text x="170.9" y="74.35" font-size="6.4" text-anchor="middle" stroke="#111" stroke-width="0.1" word-spacing="1.1" transform="rotate(-90 170.9 74.35)">Modulus of the OTF</text>
<polyline points="190.4,13.1 194.83,15.34 199.26,17.57 203.69,19.79 208.11,21.99 212.54,24.18 216.97,26.35 221.4,28.51 225.83,30.66 230.26,32.79 234.69,34.91 239.11,37.02 243.54,39.11 247.97,41.19 252.4,43.25 256.83,45.3 261.26,47.34 265.69,49.37 270.11,51.38 274.54,53.37 278.97,55.35 283.4,57.32 287.83,59.28 292.26,61.22 296.69,63.15 301.11,65.06 305.54,66.96 309.97,68.85 314.4,70.72 318.83,72.58 323.26,74.43 327.69,76.26 332.11,78.08 336.54,79.88 340.97,81.67 345.4,83.45" stroke="#e2505c" stroke-width="1.0" fill="none"/>
<polyline points="190.4,13.1 194.83,14.95 199.26,16.78 203.69,18.61 208.11,20.43 212.54,22.23 216.97,24.03 221.4,25.82 225.83,27.59 230.26,29.36 234.69,31.11 239.11,32.86 243.54,34.59 247.97,36.32 252.4,38.03 256.83,39.73 261.26,41.43 265.69,43.11 270.11,44.78 274.54,46.44 278.97,48.09 283.4,49.74 287.83,51.37 292.26,52.99 296.69,54.6 301.11,56.2 305.54,57.79 309.97,59.37 314.4,60.94 318.83,62.5 323.26,64.05 327.69,65.59 332.11,67.12 336.54,68.63 340.97,70.14 345.4,71.64" stroke="#48e048" stroke-width="1.0" fill="none"/>
<polyline points="190.4,13.1 194.83,14.66 199.26,16.22 203.69,17.77 208.11,19.32 212.54,20.87 216.97,22.41 221.4,23.94 225.83,25.47 230.26,27 234.69,28.52 239.11,30.04 243.54,31.55 247.97,33.06 252.4,34.57 256.83,36.07 261.26,37.56 265.69,39.05 270.11,40.54 274.54,42.02 278.97,43.49 283.4,44.97 287.83,46.43 292.26,47.9 296.69,49.36 301.11,50.81 305.54,52.26 309.97,53.7 314.4,55.14 318.83,56.58 323.26,58.01 327.69,59.44 332.11,60.86 336.54,62.28 340.97,63.69 345.4,65.1" stroke="#b0504a" stroke-width="1.0" fill="none"/>
<path d="M212.54 9.9V20.87M214.24 9.9V21.48" stroke="#5a5aff" stroke-width="0.8" fill="none"/>
<text x="211.6" y="8.5" font-size="6.4" text-anchor="start" stroke="#111" stroke-width="0.1" >TS 0.00 deg</text>
<path d="M234.69 18.6V29.7M236.49 18.6V29.1" stroke="#3ad63a" stroke-width="0.8" fill="none"/>
<text x="233.8" y="17.2" font-size="6.4" text-anchor="start" stroke="#111" stroke-width="0.1" >TS 35.00 deg</text>
<path d="M301.11 16.1V65.06M303.31 16.1V51.46" stroke="#e03030" stroke-width="0.8" fill="none"/>
<text x="300.7" y="14.9" font-size="6.4" text-anchor="start" stroke="#111" stroke-width="0.1" >TS 50.00 deg</text>
<path d="M190 195V321.5H346.8" stroke="#444" stroke-width="0.9" fill="none"/>
<path d="M187 321.5H190M188.5 308.9H190M187 296.3H190M188.5 283.7H190M187 271.1H190M188.5 258.5H190M187 245.9H190M188.5 233.3H190M187 220.7H190M188.5 208.1H190M187 195.5H190M190 321.5V323.7M201.16 321.5V322.7M212.33 321.5V323.7M223.49 321.5V322.7M234.66 321.5V323.7M245.82 321.5V322.7M256.99 321.5V323.7M268.15 321.5V322.7M279.31 321.5V323.7M290.48 321.5V322.7M301.64 321.5V323.7M312.81 321.5V322.7M323.97 321.5V323.7M335.14 321.5V322.7M346.3 321.5V323.7" stroke="#444" stroke-width="0.8" fill="none"/>
<text x="184.5" y="324.4" font-size="6.4" text-anchor="end" stroke="#111" stroke-width="0.1" >0.0</text>
<text x="184.5" y="299.2" font-size="6.4" text-anchor="end" stroke="#111" stroke-width="0.1" >0.2</text>
<text x="184.5" y="274" font-size="6.4" text-anchor="end" stroke="#111" stroke-width="0.1" >0.4</text>
<text x="184.5" y="248.8" font-size="6.4" text-anchor="end" stroke="#111" stroke-width="0.1" >0.6</text>
<text x="184.5" y="223.6" font-size="6.4" text-anchor="end" stroke="#111" stroke-width="0.1" >0.8</text>
<text x="184.5" y="198.4" font-size="6.4" text-anchor="end" stroke="#111" stroke-width="0.1" >1.0</text>
<text x="189.2" y="331.8" font-size="6.4" text-anchor="middle" stroke="#111" stroke-width="0.1" >0</text>
<text x="211.53" y="331.8" font-size="6.4" text-anchor="middle" stroke="#111" stroke-width="0.1" >10</text>
<text x="233.86" y="331.8" font-size="6.4" text-anchor="middle" stroke="#111" stroke-width="0.1" >20</text>
<text x="256.19" y="331.8" font-size="6.4" text-anchor="middle" stroke="#111" stroke-width="0.1" >30</text>
<text x="278.51" y="331.8" font-size="6.4" text-anchor="middle" stroke="#111" stroke-width="0.1" >40</text>
<text x="300.84" y="331.8" font-size="6.4" text-anchor="middle" stroke="#111" stroke-width="0.1" >50</text>
<text x="323.17" y="331.8" font-size="6.4" text-anchor="middle" stroke="#111" stroke-width="0.1" >60</text>
<text x="345.5" y="331.8" font-size="6.4" text-anchor="middle" stroke="#111" stroke-width="0.1" >70</text>
<text x="256.3" y="343.7" font-size="6.4" text-anchor="middle" stroke="#111" stroke-width="0.1" word-spacing="1.5">Spatial Frequency in cycles per mm</text>
<text x="170.5" y="257.1" font-size="6.4" text-anchor="middle" stroke="#111" stroke-width="0.1" word-spacing="1.1" transform="rotate(-90 170.5 257.1)">Modulus of the OTF</text>
<polyline points="190,195.5 194.47,197.7 198.93,199.9 203.4,202.08 207.86,204.25 212.33,206.41 216.79,208.56 221.26,210.7 225.73,212.82 230.19,214.94 234.66,217.04 239.12,219.14 243.59,221.22 248.05,223.29 252.52,225.35 256.99,227.4 261.45,229.43 265.92,231.46 270.38,233.47 274.85,235.48 279.31,237.47 283.78,239.45 288.25,241.42 292.71,243.38 297.18,245.33 301.64,247.27 306.11,249.19 310.57,251.11 315.04,253.01 319.51,254.9 323.97,256.78 328.44,258.65 332.9,260.51 337.37,262.36 341.83,264.2 346.3,266.02" stroke="#e2505c" stroke-width="1.0" fill="none"/>
<polyline points="190,195.5 194.47,197.34 198.93,199.17 203.4,200.99 207.86,202.8 212.33,204.6 216.79,206.39 221.26,208.17 225.73,209.94 230.19,211.7 234.66,213.45 239.12,215.19 243.59,216.93 248.05,218.65 252.52,220.36 256.99,222.07 261.45,223.76 265.92,225.45 270.38,227.12 274.85,228.79 279.31,230.44 283.78,232.09 288.25,233.72 292.71,235.35 297.18,236.97 301.64,238.58 306.11,240.17 310.57,241.76 315.04,243.34 319.51,244.91 323.97,246.47 328.44,248.02 332.9,249.56 337.37,251.09 341.83,252.61 346.3,254.12" stroke="#48e048" stroke-width="1.0" fill="none"/>
<polyline points="190,195.5 194.47,197.08 198.93,198.66 203.4,200.23 207.86,201.79 212.33,203.36 216.79,204.91 221.26,206.47 225.73,208.02 230.19,209.56 234.66,211.1 239.12,212.63 243.59,214.17 248.05,215.69 252.52,217.21 256.99,218.73 261.45,220.24 265.92,221.75 270.38,223.25 274.85,224.75 279.31,226.25 283.78,227.74 288.25,229.22 292.71,230.7 297.18,232.18 301.64,233.65 306.11,235.12 310.57,236.58 315.04,238.04 319.51,239.5 323.97,240.94 328.44,242.39 332.9,243.83 337.37,245.27 341.83,246.7 346.3,248.12" stroke="#a8487a" stroke-width="1.0" fill="none"/>
<path d="M212.33 192.8V202.5M214.03 192.8V202.2" stroke="#5a5aff" stroke-width="0.8" fill="none"/>
<text x="211.2" y="192.8" font-size="6.4" text-anchor="start" stroke="#111" stroke-width="0.1" >TS 0.00 deg</text>
<path d="M234.66 202V212.1M236.46 202V211.5" stroke="#3ad63a" stroke-width="0.8" fill="none"/>
<text x="233.4" y="200.6" font-size="6.4" text-anchor="start" stroke="#111" stroke-width="0.1" >TS 35.00 deg</text>
<path d="M301.64 198.5V247.27M303.84 198.5V234.31" stroke="#e03030" stroke-width="0.8" fill="none"/>
<text x="300.3" y="198.4" font-size="6.4" text-anchor="start" stroke="#111" stroke-width="0.1" >TS 50.00 deg</text>
<path d="M189.6 377.2V504.5H347.9" stroke="#444" stroke-width="0.9" fill="none"/>
<path d="M186.6 504.5H189.6M188.1 491.82H189.6M186.6 479.14H189.6M188.1 466.46H189.6M186.6 453.78H189.6M188.1 441.1H189.6M186.6 428.42H189.6M188.1 415.74H189.6M186.6 403.06H189.6M188.1 390.38H189.6M186.6 377.7H189.6M189.6 504.5V506.7M200.87 504.5V505.7M212.14 504.5V506.7M223.41 504.5V505.7M234.69 504.5V506.7M245.96 504.5V505.7M257.23 504.5V506.7M268.5 504.5V505.7M279.77 504.5V506.7M291.04 504.5V505.7M302.31 504.5V506.7M313.59 504.5V505.7M324.86 504.5V506.7M336.13 504.5V505.7M347.4 504.5V506.7" stroke="#444" stroke-width="0.8" fill="none"/>
<text x="184.1" y="507.4" font-size="6.4" text-anchor="end" stroke="#111" stroke-width="0.1" >0.0</text>
<text x="184.1" y="482.04" font-size="6.4" text-anchor="end" stroke="#111" stroke-width="0.1" >0.2</text>
<text x="184.1" y="456.68" font-size="6.4" text-anchor="end" stroke="#111" stroke-width="0.1" >0.4</text>
<text x="184.1" y="431.32" font-size="6.4" text-anchor="end" stroke="#111" stroke-width="0.1" >0.6</text>
<text x="184.1" y="405.96" font-size="6.4" text-anchor="end" stroke="#111" stroke-width="0.1" >0.8</text>
<text x="184.1" y="380.6" font-size="6.4" text-anchor="end" stroke="#111" stroke-width="0.1" >1.0</text>
<text x="188.8" y="514.8" font-size="6.4" text-anchor="middle" stroke="#111" stroke-width="0.1" >0</text>
<text x="211.34" y="514.8" font-size="6.4" text-anchor="middle" stroke="#111" stroke-width="0.1" >10</text>
<text x="233.89" y="514.8" font-size="6.4" text-anchor="middle" stroke="#111" stroke-width="0.1" >20</text>
<text x="256.43" y="514.8" font-size="6.4" text-anchor="middle" stroke="#111" stroke-width="0.1" >30</text>
<text x="278.97" y="514.8" font-size="6.4" text-anchor="middle" stroke="#111" stroke-width="0.1" >40</text>
<text x="301.51" y="514.8" font-size="6.4" text-anchor="middle" stroke="#111" stroke-width="0.1" >50</text>
<text x="324.06" y="514.8" font-size="6.4" text-anchor="middle" stroke="#111" stroke-width="0.1" >60</text>
<text x="346.6" y="514.8" font-size="6.4" text-anchor="middle" stroke="#111" stroke-width="0.1" >70</text>
<text x="255.9" y="526.7" font-size="6.4" text-anchor="middle" stroke="#111" stroke-width="0.1" word-spacing="1.5">Spatial Frequency in cycles per mm</text>
<text x="170.1" y="439.7" font-size="6.4" text-anchor="middle" stroke="#111" stroke-width="0.1" word-spacing="1.1" transform="rotate(-90 170.1 439.7)">Modulus of the OTF</text>
<polyline points="189.6,377.7 194.11,379.4 198.62,381.08 203.13,382.76 207.63,384.43 212.14,386.09 216.65,387.74 221.16,389.38 225.67,391.02 230.18,392.64 234.69,394.26 239.19,395.86 243.7,397.46 248.21,399.05 252.72,400.63 257.23,402.2 261.74,403.76 266.25,405.31 270.75,406.85 275.26,408.39 279.77,409.91 284.28,411.43 288.79,412.94 293.3,414.43 297.81,415.92 302.31,417.4 306.82,418.88 311.33,420.34 315.84,421.79 320.35,423.24 324.86,424.67 329.37,426.1 333.87,427.52 338.38,428.92 342.89,430.32 347.4,431.71" stroke="#3a9aa0" stroke-width="0.9" fill="none"/>
<polyline points="189.6,377.7 194.11,380 198.62,382.28 203.13,384.54 207.63,386.79 212.14,389.01 216.65,391.22 221.16,393.41 225.67,395.58 230.18,397.73 234.69,399.87 239.19,401.99 243.7,404.08 248.21,406.16 252.72,408.22 257.23,410.27 261.74,412.29 266.25,414.3 270.75,416.29 275.26,418.26 279.77,420.21 284.28,422.14 288.79,424.06 293.3,425.96 297.81,427.83 302.31,429.69 306.82,431.54 311.33,433.36 315.84,435.17 320.35,436.95 324.86,438.72 329.37,440.47 333.87,442.21 338.38,443.92 342.89,445.62 347.4,447.29" stroke="#e2505c" stroke-width="1.0" fill="none"/>
<polyline points="189.6,377.7 194.11,379.65 198.62,381.59 203.13,383.51 207.63,385.42 212.14,387.3 216.65,389.18 221.16,391.03 225.67,392.87 230.18,394.69 234.69,396.5 239.19,398.29 243.7,400.06 248.21,401.82 252.72,403.56 257.23,405.28 261.74,406.99 266.25,408.68 270.75,410.36 275.26,412.02 279.77,413.66 284.28,415.29 288.79,416.9 293.3,418.49 297.81,420.07 302.31,421.63 306.82,423.17 311.33,424.7 315.84,426.21 320.35,427.71 324.86,429.19 329.37,430.65 333.87,432.1 338.38,433.53 342.89,434.94 347.4,436.34" stroke="#48e048" stroke-width="1.0" fill="none"/>
<polyline points="189.6,377.7 194.11,379.37 198.62,381.02 203.13,382.67 207.63,384.31 212.14,385.94 216.65,387.56 221.16,389.17 225.67,390.77 230.18,392.37 234.69,393.95 239.19,395.53 243.7,397.09 248.21,398.65 252.72,400.2 257.23,401.74 261.74,403.27 266.25,404.79 270.75,406.3 275.26,407.81 279.77,409.3 284.28,410.79 288.79,412.27 293.3,413.73 297.81,415.19 302.31,416.64 306.82,418.08 311.33,419.52 315.84,420.94 320.35,422.35 324.86,423.76 329.37,425.15 333.87,426.54 338.38,427.92 342.89,429.29 347.4,430.65" stroke="#c05048" stroke-width="1.0" fill="none"/>
<path d="M212.14 376V384.5M213.84 376V384.2" stroke="#5a5aff" stroke-width="0.8" fill="none"/>
<text x="210.8" y="375.2" font-size="6.4" text-anchor="start" stroke="#111" stroke-width="0.1" >TS 0.00 deg</text>
<path d="M234.69 385.4V394.3M236.49 385.4V393.7" stroke="#3ad63a" stroke-width="0.8" fill="none"/>
<text x="233" y="384.4" font-size="6.4" text-anchor="start" stroke="#111" stroke-width="0.1" >TS 35.00 deg</text>
<path d="M302.31 384.2V429.69M304.51 384.2V417.29" stroke="#e03030" stroke-width="0.8" fill="none"/>
<text x="299.9" y="382.1" font-size="6.4" text-anchor="start" stroke="#111" stroke-width="0.1" >TS 50.00 deg</text>
<text x="172" y="177.6" font-size="11" text-anchor="start" stroke="#111" stroke-width="0.1" >(a)</text>
<text x="172" y="360.4" font-size="11" text-anchor="start" stroke="#111" stroke-width="0.1" >(b)</text>
<text x="172.3" y="543.3" font-size="11" text-anchor="start" stroke="#111" stroke-width="0.1" >(c)</text>
</g></svg></div></body></html>
